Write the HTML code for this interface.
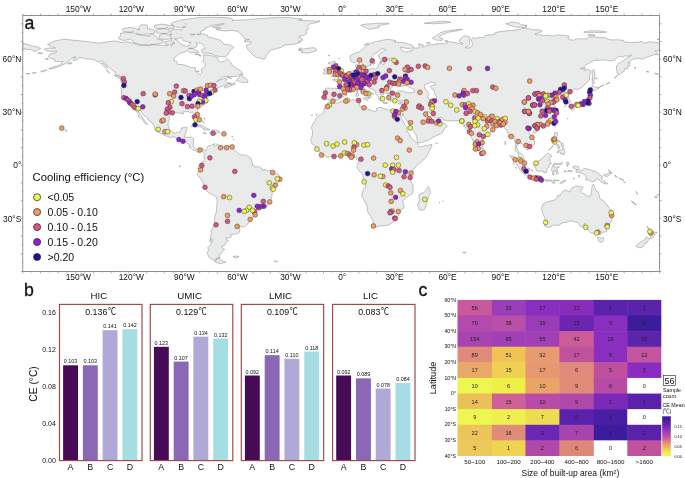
<!DOCTYPE html>
<html><head><meta charset="utf-8"><title>Cooling efficiency</title>
<style>
html,body{margin:0;padding:0;background:#fff;}
svg{display:block;font-family:"Liberation Sans","Noto Sans CJK SC",sans-serif;fill:#101010;}
.tk{font-size:8.4px;}
.d circle{stroke:#3a2a3a;stroke-width:.45;}
</style></head><body>
<svg width="685" height="478" viewBox="0 0 685 478">
<rect width="685" height="478" fill="#fff"/>

<clipPath id="mc"><rect x="22.8" y="15.6" width="636.8" height="255.9"/></clipPath>
<g clip-path="url(#mc)"><path d="M179.3,165.8L180.2,165.8L180.2,167.1L179.3,166.7ZM202.7,132.9L205.0,132.8L206.4,133.5L205.0,133.8ZM65.2,129.6L67.0,130.5L66.1,131.7L65.2,130.6ZM209.9,129.6L207.6,130.1L203.9,130.1L204.6,128.9L202.3,128.2L200.6,126.9L197.0,126.2L195.3,125.3L193.5,126.0L191.0,126.6L192.6,125.1L195.3,124.4L197.9,124.4L200.6,125.1L203.2,126.0L205.9,127.8L207.6,128.7ZM202.7,121.1L203.7,122.0L203.9,123.2L202.9,122.3ZM204.6,119.3L203.6,118.1L205.0,118.4ZM54.8,40.9L59.9,39.9L64.2,39.2L72.3,40.1L79.4,40.8L86.5,41.5L91.8,42.2L98.8,43.2L102.4,42.5L109.5,41.5L114.8,40.9L120.1,42.2L121.8,42.5L127.2,41.8L134.2,43.4L137.8,45.0L141.3,45.4L146.6,45.2L150.1,45.9L151.0,44.7L148.4,44.9L141.1,44.9L133.9,42.7L133.3,41.6L130.0,39.3L130.0,39.1L128.4,39.7L122.9,40.5L118.6,38.7L118.2,37.9L118.7,37.1L120.6,35.8L120.0,33.9L120.9,33.1L127.2,32.5L133.7,32.9L133.3,32.3L133.3,31.4L130.8,32.2L123.4,31.5L122.6,30.5L122.7,29.1L123.3,28.5L130.6,27.4L136.3,28.5L137.0,29.3L136.8,29.5L139.8,29.5L139.4,29.5L138.6,28.8L138.9,27.8L139.6,27.2L139.5,27.2L139.7,26.2L141.1,24.8L146.7,24.9L147.5,25.5L147.6,26.9L147.5,27.0L147.5,27.0L147.6,28.8L147.5,28.9L148.5,28.8L154.0,29.9L154.7,30.8L154.6,32.6L154.2,33.3L148.4,34.1L141.1,34.5L135.5,33.5L137.4,34.5L137.6,34.7L138.6,34.5L143.2,35.7L146.8,35.6L149.2,36.5L149.3,35.4L149.8,34.9L153.9,34.7L157.0,37.3L157.9,39.2L162.9,40.6L163.5,41.4L163.2,42.2L160.9,43.7L151.0,44.7L155.5,44.7L160.8,45.4L167.0,45.4L168.5,44.7L164.6,43.7L164.2,42.8L164.9,41.9L169.7,40.7L171.3,41.3L170.8,39.2L172.2,38.5L172.1,38.5L171.4,37.9L171.3,37.7L170.9,38.3L166.1,39.8L159.6,38.9L158.9,37.9L159.2,35.5L163.4,33.6L169.1,34.4L170.8,36.6L170.4,35.5L170.6,34.7L172.2,34.2L170.3,34.1L169.6,33.5L170.6,31.0L171.2,30.6L172.5,30.6L172.3,29.8L173.0,29.4L178.5,29.4L182.0,30.1L182.0,29.5L183.2,27.4L186.0,26.9L185.1,26.3L180.2,27.8L174.6,26.5L171.7,24.6L171.3,23.8L171.8,22.9L178.5,20.7L179.3,20.9L180.1,20.2L196.0,17.9L208.5,17.3L222.8,17.5L231.7,18.2L232.5,19.0L232.5,20.5L232.3,20.7L235.1,20.2L249.2,19.7L256.3,18.8L266.9,18.1L279.3,17.4L291.7,17.8L302.3,19.2L298.7,20.2L309.4,20.8L320.0,21.1L316.4,22.7L310.2,23.8L307.6,26.4L308.5,29.1L305.8,30.9L306.7,33.5L303.2,35.3L298.7,37.0L302.3,38.8L302.3,40.6L298.7,41.5L300.5,42.4L295.2,43.9L289.9,44.7L284.6,45.0L281.1,47.3L275.7,48.9L270.4,50.1L268.7,53.0L266.0,55.6L265.1,58.8L262.5,59.3L259.8,57.9L256.3,57.4L253.6,55.6L251.0,53.0L249.2,51.2L246.6,47.7L246.6,45.0L251.0,43.2L251.0,41.8L244.8,42.0L244.8,40.1L249.2,39.7L243.9,38.6L243.0,36.2L240.4,33.5L237.7,31.4L231.5,30.5L224.4,30.9L219.1,30.3L215.6,29.1L220.9,28.2L212.1,27.0L219.1,25.5L224.4,23.8L223.3,23.3L217.6,24.7L210.4,25.5L210.3,26.5L209.8,27.0L205.1,27.8L205.1,29.3L204.6,29.9L200.4,31.3L200.6,31.5L200.6,33.4L199.8,34.1L197.0,34.2L198.9,34.8L201.5,33.8L207.0,34.9L207.7,35.8L207.3,36.4L220.4,40.2L224.0,44.1L230.0,44.9L232.9,46.7L233.4,47.3L233.2,48.0L229.7,50.9L228.3,54.4L225.5,56.9L220.0,56.6L215.4,55.7L211.7,53.9L208.4,53.1L203.0,53.2L202.3,52.7L201.4,50.0L202.0,49.4L204.9,48.5L204.9,47.5L203.3,46.0L202.5,44.2L201.1,43.3L199.5,43.0L195.9,42.7L197.0,43.9L197.0,46.4L193.5,48.2L189.1,48.2L188.4,49.0L189.1,48.5L192.6,48.5L196.1,50.3L199.1,52.1L197.9,53.0L194.4,52.4L190.0,53.0L187.5,50.1L185.5,51.7L181.1,52.8L177.6,55.1L174.9,57.4L173.7,60.9L176.7,61.5L177.6,64.5L182.0,64.5L185.5,65.4L190.8,67.5L195.3,67.7L195.8,71.5L197.9,73.7L200.0,74.7L201.8,73.0L201.1,69.2L205.0,66.6L205.5,63.6L202.7,61.3L203.9,58.3L203.2,55.1L209.4,55.1L213.8,56.5L217.7,57.6L218.3,60.9L220.9,62.0L224.4,61.3L227.1,58.6L230.6,62.2L232.4,65.4L235.9,68.0L239.8,70.1L242.5,72.8L240.4,74.4L236.8,76.3L232.4,76.7L228.0,76.3L223.6,76.5L220.0,78.8L216.5,81.8L220.9,79.5L225.3,78.3L227.5,79.1L225.3,80.9L226.6,82.5L228.0,83.9L231.5,84.3L234.5,82.2L235.1,84.3L232.4,85.3L228.9,86.4L225.2,88.3L224.1,87.1L227.1,85.0L224.4,85.3L222.3,86.2L219.1,87.3L217.0,88.2L216.0,89.9L217.4,91.5L214.7,92.1L211.2,92.8L210.3,93.7L209.9,95.2L208.5,96.5L207.5,98.4L206.8,100.0L207.5,102.9L205.5,103.9L203.2,105.3L200.6,106.9L197.9,108.7L197.2,111.3L198.6,115.1L199.7,117.9L199.1,120.7L197.6,120.7L196.5,118.8L194.7,116.1L194.9,113.6L192.6,112.1L190.3,112.8L188.2,111.5L185.5,111.7L182.9,111.9L183.4,113.8L181.1,113.6L178.8,112.9L175.3,112.8L173.1,113.6L170.0,115.4L168.9,117.5L169.3,119.7L168.2,122.8L168.2,125.9L169.3,128.5L171.0,131.2L173.1,132.4L174.4,133.1L177.6,132.4L179.7,132.0L180.9,130.3L181.3,128.2L184.6,127.3L187.3,127.3L186.4,130.3L185.9,132.9L185.0,134.3L184.1,137.2L186.4,137.3L189.1,137.2L191.7,137.3L193.8,138.8L193.5,142.3L193.1,145.8L194.4,147.6L195.8,149.2L197.9,149.7L200.0,148.7L201.8,148.7L204.3,149.9L205.3,151.1L206.8,148.8L207.6,146.7L208.9,145.8L211.2,145.3L213.3,144.2L214.9,143.4L214.2,145.3L214.5,146.5L215.2,145.8L217.0,145.0L217.4,143.7L218.3,145.0L220.4,146.2L222.7,146.5L225.3,147.3L227.5,146.7L230.3,146.4L231.5,147.6L233.3,149.4L234.2,150.4L235.9,151.1L237.7,152.9L239.8,154.7L243.0,154.9L245.7,155.0L247.8,156.1L249.6,157.3L251.0,158.2L251.9,161.8L252.8,163.5L251.9,165.3L254.5,165.7L255.8,167.6L257.2,166.4L259.8,167.2L262.1,168.8L262.8,170.1L265.1,169.5L267.8,170.4L270.4,170.4L273.1,171.8L275.4,173.8L278.8,174.5L279.5,176.8L279.6,178.9L278.8,181.8L276.6,184.1L275.2,185.8L273.1,188.3L272.2,191.0L272.2,193.6L271.7,196.8L270.8,199.8L269.0,202.4L268.7,204.6L266.9,206.0L264.2,206.0L262.1,206.5L259.3,207.8L256.6,209.5L255.2,211.3L255.0,214.8L253.3,217.1L251.5,219.8L249.0,222.3L246.6,225.3L244.1,227.0L241.3,226.9L238.6,225.4L237.7,226.3L239.8,227.7L240.0,229.5L239.1,232.5L236.8,233.8L233.3,234.3L231.2,234.3L231.0,237.3L228.9,238.0L226.2,237.7L226.2,239.6L228.5,240.5L227.1,241.4L225.7,243.1L225.2,244.9L222.1,246.1L221.8,247.6L224.6,249.3L222.7,251.6L220.9,253.8L219.1,255.2L220.0,257.8L218.3,257.8L215.6,259.1L215.6,260.5L212.9,259.9L211.2,258.7L208.9,257.3L207.8,254.6L207.5,251.5L208.9,249.9L207.5,247.9L209.4,245.8L211.2,244.0L212.4,241.4L212.4,239.2L210.6,238.7L210.6,236.1L211.5,233.4L211.0,231.1L212.4,229.0L213.5,226.3L214.7,222.8L214.5,219.3L215.1,215.7L216.3,212.2L216.5,208.6L217.0,204.2L217.0,200.7L216.8,197.8L214.7,195.9L211.2,194.1L208.2,192.4L206.2,190.1L205.9,188.3L204.6,186.5L203.2,183.3L201.8,180.3L200.0,177.7L197.9,175.9L197.4,173.3L199.0,171.3L199.9,169.7L198.1,169.2L198.3,167.1L199.5,165.3L199.7,163.7L201.4,163.0L202.2,161.8L203.6,160.7L204.5,158.6L204.1,155.6L204.3,153.4L203.4,152.6L202.3,150.6L200.6,149.6L199.1,150.8L199.3,152.2L197.9,152.6L196.1,150.8L194.4,150.6L193.1,150.1L191.2,148.1L189.4,147.4L189.4,145.5L187.3,143.0L185.9,141.8L182.9,141.4L179.3,140.5L176.7,138.4L174.6,136.6L171.4,137.5L167.8,136.6L164.3,135.2L160.8,133.6L157.2,131.7L154.7,129.9L154.7,127.3L153.7,125.0L151.0,122.0L148.4,120.0L147.5,118.1L145.7,116.7L143.1,114.4L141.3,111.3L138.3,109.2L138.1,110.8L139.5,113.1L141.3,115.4L142.5,117.5L144.3,120.2L145.7,122.3L147.5,124.4L146.3,124.3L144.0,122.3L142.7,120.2L140.4,117.9L138.1,116.1L139.0,114.4L136.5,112.2L135.1,109.6L134.1,107.8L131.8,105.5L129.8,104.6L127.9,104.3L126.8,102.3L125.4,100.2L124.5,98.4L122.4,96.3L121.3,93.8L121.7,91.0L121.1,89.2L121.8,86.6L122.0,83.6L120.8,80.7L120.6,79.7L123.6,80.0L124.3,81.6L124.9,79.5L123.6,78.3L121.0,76.9L120.1,76.5L122.7,78.6L122.7,79.9L118.3,78.1L114.2,75.4L116.5,75.3L120.1,76.5L117.4,75.4L115.3,74.2L114.8,71.9L112.1,70.1L110.7,68.5L108.6,66.8L105.9,64.5L104.2,62.3L101.5,60.6L99.7,62.2L97.1,61.3L93.9,59.7L90.0,59.2L85.6,59.0L82.0,57.7L78.9,57.7L77.6,59.5L73.2,60.6L73.2,58.3L76.2,57.0L72.7,57.4L70.5,59.2L69.1,60.6L68.4,62.3L65.2,63.6L62.1,65.2L58.2,66.8L53.7,68.2L52.4,68.4L52.5,68.5L50.7,68.7L49.8,68.9L50.0,68.8L49.3,68.9L49.3,68.2L51.4,68.0L53.7,66.8L57.3,65.9L60.8,63.9L62.9,61.5L59.9,61.6L55.0,61.5L54.3,59.2L50.2,58.3L48.3,56.5L49.3,54.6L52.0,53.7L55.5,53.0L56.7,51.0L53.7,51.4L50.2,51.4L46.7,50.8L44.0,49.3L50.2,47.7L51.6,48.4L55.5,48.0L52.0,46.6L47.5,44.5L49.3,43.4L52.9,41.8ZM195.3,34.2L189.9,34.4L191.1,35.4ZM181.5,34.1L181.1,34.1L181.3,34.3ZM177.0,40.1L179.3,42.2L181.1,44.1L184.6,45.4L186.4,46.2L189.1,45.4L190.0,42.5L190.8,42.4L190.7,42.4L183.4,40.8L182.0,38.3L181.7,37.3L177.8,38.9L174.3,38.7ZM172.9,42.1L173.2,42.8L172.8,43.5L170.1,44.7L171.4,46.2L172.3,44.1L174.9,42.9ZM176.7,33.2L176.7,33.3L177.0,33.3ZM186.4,24.0L185.2,23.6L185.8,24.3ZM26.3,73.5L29.5,73.3L29.9,73.7L26.3,74.0ZM32.5,73.3L32.5,72.8L35.7,72.4L36.0,72.8ZM198.8,71.9L196.1,71.5L198.8,71.2ZM105.9,69.6L108.0,71.2L109.5,73.3L107.7,71.9ZM40.8,71.5L43.5,70.7L44.0,71.2L41.4,72.1ZM44.0,70.5L46.7,69.8L47.0,70.3L44.9,71.0ZM105.6,65.4L107.7,67.5L105.9,68.0L103.3,65.9L100.6,63.1L103.3,63.1ZM67.9,63.9L69.7,62.7L71.8,62.7L71.4,63.9ZM45.8,58.5L48.3,58.6L48.1,59.5L45.2,59.2ZM198.8,55.6L200.6,54.9L200.6,56.3ZM194.4,54.2L197.9,53.9L199.7,54.7L197.0,54.7ZM37.5,53.1L39.9,52.6L42.6,53.3L41.4,53.9ZM29.0,49.4L25.4,49.4L24.5,48.2L22.8,50.1L22.8,43.2L26.3,44.1L31.6,45.9L36.9,46.8L40.8,48.4L38.7,49.4L36.0,51.2L34.3,51.4L31.6,49.8ZM156.3,32.3L156.3,30.0L157.1,29.4L164.4,28.6L169.1,29.9L169.7,30.8L169.3,31.6L166.1,33.6L157.1,33.2ZM168.1,25.1L168.3,25.4L172.2,25.1L173.1,25.5L174.1,27.7L173.8,28.4L173.1,28.6L168.5,28.6L167.7,27.7L167.8,27.2L164.4,28.6L155.3,28.3L154.5,27.3L154.5,25.6L155.1,25.0L162.4,24.1ZM276.6,262.1L274.0,260.8L277.5,261.4ZM216.5,260.8L216.5,259.1L218.3,258.3L219.8,258.3L220.9,259.9L223.6,261.5L225.9,262.1L223.6,262.8L220.0,263.5L217.4,262.9L214.7,261.7ZM234.2,257.6L232.8,256.4L236.8,256.0L239.0,256.6L237.2,257.8ZM211.2,239.6L211.0,242.1L209.6,241.7L209.9,239.4ZM346.5,100.2L350.0,100.2L352.7,99.8L355.4,100.0L358.5,99.3L360.7,99.8L360.0,101.1L360.3,102.5L359.2,104.4L359.1,105.3L360.7,106.4L363.3,107.3L364.7,107.1L367.7,108.0L368.6,109.6L372.2,110.6L374.8,111.7L376.6,110.5L376.6,108.7L379.2,107.1L381.9,107.6L385.4,109.2L389.0,109.9L392.5,110.6L394.8,109.8L396.0,109.4L397.8,110.1L398.9,110.3L400.5,110.3L401.9,109.9L402.8,108.2L403.3,106.6L404.5,104.3L404.7,102.0L405.1,100.4L403.1,100.4L401.3,101.1L399.2,101.4L396.9,100.6L395.3,100.2L393.4,101.3L391.3,100.4L389.7,99.8L389.3,98.1L387.9,97.2L388.6,95.8L387.5,95.2L387.7,94.4L389.8,93.8L392.5,93.8L392.5,92.8L394.3,92.4L396.9,92.2L399.6,91.0L403.1,91.0L405.8,92.2L408.4,92.8L411.1,92.6L414.6,91.9L414.6,89.8L412.5,88.9L410.2,87.5L407.5,86.2L406.3,85.2L407.5,84.3L408.8,83.2L408.8,82.2L410.5,81.8L408.1,82.2L405.8,82.7L403.5,83.2L403.1,84.5L405.6,85.2L404.0,85.7L402.2,86.4L400.6,86.8L400.5,85.5L398.9,85.0L400.5,83.9L397.8,83.4L396.9,82.7L395.5,83.2L393.9,84.6L393.6,85.7L392.0,86.6L391.8,88.3L390.4,89.8L390.7,91.0L391.1,91.9L392.5,92.3L390.7,92.8L389.0,92.9L387.7,94.0L387.2,93.1L385.4,92.9L383.7,93.1L384.0,94.2L382.8,94.7L381.7,93.7L381.2,94.5L381.9,95.8L382.3,96.5L384.0,97.2L384.5,97.9L383.1,97.2L382.4,96.6L382.4,96.7L383.7,98.1L383.7,98.6L382.1,98.1L382.2,99.3L381.5,100.2L381.9,100.7L380.8,100.7L380.1,99.8L379.6,100.2L378.7,98.4L379.2,97.5L378.0,96.7L376.9,95.2L375.5,93.7L375.7,91.7L374.8,90.6L373.0,89.8L371.3,88.9L369.5,88.2L368.1,86.9L367.0,85.3L365.4,85.9L365.3,84.6L363.3,85.0L363.0,86.0L363.1,87.1L365.1,88.2L366.0,89.9L367.7,91.0L369.7,91.2L369.5,92.1L372.2,93.1L373.9,94.2L373.0,94.7L371.3,93.7L370.6,94.9L371.4,96.3L370.4,97.2L369.7,98.1L369.0,98.1L369.3,96.8L369.7,95.8L368.8,94.4L367.4,93.5L366.3,93.1L364.2,92.2L362.8,91.4L360.7,90.1L359.8,89.2L359.2,87.6L356.9,86.8L355.7,87.5L354.5,87.8L352.9,88.9L350.9,88.9L349.3,88.5L347.9,88.3L346.5,89.4L346.9,90.5L346.7,91.4L345.1,92.1L343.0,92.6L342.3,93.5L341.2,94.7L340.7,95.6L341.6,96.7L340.3,97.5L339.8,98.8L337.8,99.8L337.3,100.2L335.0,100.4L333.4,100.4L331.6,101.4L330.4,101.1L329.9,100.2L328.1,99.5L325.5,99.8L325.6,98.1L324.4,96.8L325.3,94.9L325.8,92.8L325.6,90.6L324.7,89.2L327.0,88.0L330.6,88.2L334.5,88.3L338.0,88.5L338.9,86.4L339.3,84.5L338.9,83.6L337.3,82.0L335.9,81.1L333.4,80.7L332.9,79.7L335.0,79.0L338.4,79.3L338.0,77.4L339.3,77.9L341.6,77.7L343.9,76.7L344.0,75.3L345.6,74.9L347.4,74.4L348.6,73.0L349.7,71.5L350.9,71.0L353.6,70.7L355.4,70.5L356.4,69.8L356.6,68.2L355.7,67.1L355.7,64.8L358.0,64.1L359.8,63.2L359.6,65.2L360.3,65.9L359.2,67.1L360.1,67.1L360.1,67.8L358.9,67.8L358.8,67.6L358.2,68.4L360.3,69.8L362.4,69.4L364.2,69.1L366.3,70.0L369.5,69.2L373.6,68.4L375.7,69.1L376.6,68.4L378.3,67.3L378.3,64.8L379.2,63.6L381.2,63.2L382.4,64.5L384.2,64.1L384.2,62.3L382.8,61.5L382.6,60.6L385.4,60.0L388.1,59.9L390.7,59.9L392.9,59.2L394.6,59.3L392.5,58.5L390.4,58.3L387.2,58.5L384.5,59.0L381.7,59.3L379.2,58.1L378.9,56.5L378.7,54.6L381.0,53.0L383.7,51.2L386.0,50.1L385.4,49.1L382.8,48.9L380.1,49.3L378.9,51.0L377.5,52.4L373.9,54.2L372.0,56.0L371.6,57.9L374.3,59.0L373.4,60.4L371.3,61.5L370.6,63.6L369.5,65.7L367.4,66.1L366.5,67.1L364.2,67.3L363.7,65.9L362.4,63.9L361.2,61.8L360.3,60.4L359.6,60.0L358.0,60.9L355.7,62.3L353.6,62.7L351.3,61.5L350.4,59.5L350.0,57.4L350.4,55.6L352.7,54.2L356.2,52.8L358.9,52.1L361.0,50.5L363.3,48.5L365.1,46.8L367.4,45.0L370.4,43.6L373.0,42.4L376.2,41.5L379.2,41.1L382.8,40.1L386.7,39.5L390.7,39.7L394.3,40.2L396.0,40.9L393.9,41.8L396.9,42.2L400.5,42.5L404.9,42.9L409.3,44.3L412.8,45.5L414.1,47.1L412.0,48.2L408.4,48.5L404.9,48.0L400.5,47.1L401.3,48.9L402.8,51.2L405.8,52.1L408.1,51.6L408.8,50.7L412.0,51.0L412.5,49.4L414.6,48.0L419.0,48.0L419.0,46.2L419.4,44.5L418.2,43.9L421.7,44.3L423.5,45.4L421.7,46.8L424.3,47.0L426.1,45.5L430.5,44.8L435.0,44.5L436.7,44.7L436.7,43.4L441.1,43.9L445.6,43.6L448.2,41.8L451.8,42.0L455.3,42.7L458.0,43.2L461.5,44.3L463.3,43.6L459.7,42.2L459.4,40.4L460.3,38.8L462.4,36.9L464.1,35.8L467.7,36.0L470.0,37.2L469.8,39.7L469.5,42.4L469.8,44.1L467.7,46.4L465.0,47.8L468.6,48.0L471.2,46.8L473.0,44.5L472.1,42.4L471.2,39.7L473.0,37.4L475.6,38.3L479.2,37.4L483.6,37.8L485.4,35.3L489.8,34.9L494.2,34.6L495.1,32.6L500.4,31.6L507.5,30.7L514.6,30.3L519.9,29.1L525.2,27.8L528.7,28.6L531.4,29.8L537.6,29.6L542.0,30.9L539.3,32.6L534.9,34.0L536.7,34.7L541.1,34.9L542.9,35.6L549.9,35.3L551.7,36.2L558.8,34.9L564.1,35.3L569.4,36.2L567.6,37.9L570.3,39.7L573.8,40.1L576.5,38.8L581.8,38.8L587.1,38.8L588.9,37.0L594.2,36.9L599.5,37.4L604.8,37.6L607.4,38.8L611.0,39.9L617.2,39.7L623.4,40.4L624.2,42.0L627.8,42.2L633.1,42.4L638.4,42.2L641.9,41.3L643.7,43.2L649.0,41.8L654.3,42.2L659.6,43.2L659.6,50.1L657.0,51.2L654.8,50.8L657.0,53.0L658.7,54.7L654.3,54.7L650.8,55.8L646.4,57.4L642.8,59.2L638.4,58.3L634.9,58.8L632.2,59.5L630.1,61.3L627.8,62.7L629.9,63.1L629.5,66.2L627.8,65.7L627.8,68.4L624.6,68.9L624.2,71.2L621.6,73.0L618.4,75.1L617.2,72.4L616.6,69.8L616.6,66.2L618.4,63.6L620.7,62.3L624.2,60.0L626.9,58.3L630.4,56.5L631.3,54.7L628.7,56.2L624.2,56.0L622.5,57.0L618.9,56.2L615.4,59.2L614.2,60.0L611.0,60.9L608.3,60.6L604.8,60.0L599.5,60.2L594.2,60.4L589.7,62.7L585.3,65.4L582.7,68.0L580.5,68.5L584.4,69.4L584.4,70.5L588.0,69.4L591.2,71.2L590.3,73.3L589.7,76.0L589.6,79.5L587.1,82.2L585.3,84.3L582.7,86.6L580.5,88.3L577.4,89.6L574.7,88.9L572.6,90.3L570.8,91.9L570.6,93.1L567.6,94.5L566.6,95.8L568.2,97.2L569.9,99.5L570.3,101.6L569.8,103.0L567.6,103.6L565.0,104.4L564.6,102.5L565.3,100.7L564.4,99.8L565.3,98.6L562.9,98.4L562.3,97.0L563.0,95.4L561.1,94.5L558.8,95.2L555.8,96.7L556.7,94.9L557.4,93.5L555.2,92.9L552.6,94.9L549.9,96.0L549.4,97.0L551.4,98.1L551.7,99.3L554.7,98.4L557.9,99.1L557.7,100.0L554.9,100.7L553.8,101.6L552.2,103.2L553.8,104.6L554.9,106.9L556.7,108.9L556.8,110.6L554.9,111.5L556.8,112.4L556.5,114.9L554.7,116.3L553.5,118.2L552.6,120.2L551.0,121.8L549.6,122.8L547.6,124.1L545.5,125.1L543.2,125.9L542.0,126.0L540.2,126.7L537.6,127.3L536.5,127.8L536.3,129.4L535.4,129.0L535.3,127.3L533.1,126.9L531.4,127.6L530.0,128.7L528.7,130.3L528.4,131.7L529.6,133.6L531.4,135.8L532.8,137.0L534.0,139.1L534.6,142.3L534.4,144.4L532.8,145.8L530.5,146.9L530.0,148.3L527.8,149.4L526.9,150.1L526.6,148.0L526.1,146.9L524.3,146.5L523.1,144.6L522.0,143.5L519.9,142.8L519.7,141.6L518.3,141.6L517.9,143.5L516.7,146.2L516.9,148.8L518.1,150.4L519.0,152.6L520.8,153.3L522.2,154.3L523.8,156.5L524.1,158.2L524.3,160.5L525.5,162.8L524.3,163.0L522.5,161.8L520.4,160.3L519.3,158.4L518.6,155.7L518.5,154.0L517.2,152.6L515.4,150.8L515.1,148.8L515.8,146.7L515.6,144.1L514.9,141.4L514.2,138.8L513.9,136.1L512.6,134.9L511.0,136.3L509.8,137.3L508.0,137.0L508.4,134.3L507.8,132.0L506.6,130.3L505.4,129.0L503.9,127.3L503.6,125.7L501.8,125.9L500.8,126.6L498.6,126.7L496.9,126.9L495.1,127.4L494.7,129.0L493.3,130.1L491.6,131.0L489.8,132.8L487.1,135.2L485.4,136.5L484.1,137.3L482.9,138.8L483.1,141.4L482.7,144.1L482.4,147.1L481.3,147.1L481.0,149.0L479.5,149.6L478.3,151.0L477.1,150.1L476.2,148.0L474.9,145.0L473.9,143.2L473.2,140.5L472.1,138.8L471.0,136.1L470.3,133.5L470.0,131.5L469.8,129.0L470.0,127.3L469.1,127.8L466.8,128.5L465.0,127.8L463.4,126.0L465.0,125.1L463.1,124.8L461.8,123.4L460.4,122.5L459.7,121.3L458.8,120.4L455.3,120.7L450.9,120.9L447.3,120.5L443.8,120.0L442.0,117.7L440.8,117.4L438.5,118.2L436.7,118.1L434.1,116.8L432.3,115.9L431.1,114.2L430.2,112.4L427.9,111.5L426.1,112.2L426.5,114.0L427.4,115.8L429.6,117.9L430.0,120.0L431.1,121.4L431.8,119.1L432.5,121.1L432.8,122.8L435.0,122.7L437.1,122.5L439.4,120.4L440.6,119.0L441.1,121.8L442.6,123.0L444.9,123.6L447.0,125.5L445.6,127.8L443.8,129.2L443.3,131.7L441.1,133.5L438.8,134.7L436.7,135.4L433.7,137.0L430.5,138.8L427.4,140.5L424.3,141.4L420.8,142.7L418.2,142.8L417.3,140.9L416.9,138.4L416.7,136.1L415.1,133.5L413.2,130.5L411.1,128.5L410.2,126.4L409.1,123.7L407.2,121.4L405.9,119.3L404.0,116.7L402.8,114.9L402.9,113.1L402.2,115.4L401.7,116.2L400.6,115.2L399.8,114.0L398.9,112.4L398.5,112.9L399.2,114.4L400.5,116.1L401.2,117.5L402.1,119.3L403.1,121.4L404.2,123.0L404.2,124.6L406.3,126.4L407.0,128.2L407.0,130.6L407.5,132.2L409.3,133.5L410.5,137.0L411.4,138.4L413.7,140.2L416.0,142.3L417.6,143.2L417.8,144.8L419.0,146.7L420.8,146.7L423.5,146.2L426.1,145.5L428.8,145.1L431.8,144.2L431.6,146.7L430.4,148.8L429.3,151.1L427.9,153.8L426.1,157.2L423.5,160.0L421.3,161.8L419.0,163.5L416.4,166.2L414.6,168.3L412.5,169.9L411.3,172.6L410.0,175.6L409.8,176.8L410.9,178.2L410.7,180.5L411.6,183.0L412.7,183.9L413.0,187.4L413.2,191.0L412.3,193.6L410.2,195.0L407.5,196.4L405.8,198.2L403.1,200.3L402.6,201.9L403.8,204.2L404.0,207.4L402.8,209.0L399.6,210.1L399.0,211.3L399.4,213.1L398.7,215.5L396.9,217.1L395.5,219.3L393.4,221.6L391.3,223.3L389.0,224.7L386.7,225.4L383.7,225.6L381.0,225.6L378.3,226.2L376.6,226.9L374.5,226.2L373.7,225.6L373.6,223.7L373.0,222.8L373.4,221.4L371.8,218.9L370.9,216.6L369.0,213.9L367.7,211.6L367.2,207.8L366.7,205.1L365.1,202.4L363.3,198.9L362.1,197.1L361.9,194.5L362.6,191.8L363.8,189.2L365.4,187.1L365.6,184.8L364.4,181.2L363.8,178.6L363.0,176.1L362.6,174.1L361.0,172.4L358.9,170.6L357.7,168.8L356.8,166.7L357.8,164.9L358.2,163.2L358.5,160.9L358.4,158.9L356.9,157.3L355.4,157.3L353.6,157.5L351.8,157.7L350.4,155.9L349.2,154.2L347.4,154.0L345.6,154.2L343.3,154.7L341.6,155.2L339.4,156.1L337.7,156.8L335.9,156.3L334.1,156.1L331.5,156.3L329.7,156.8L327.9,157.5L326.2,156.5L324.4,155.2L322.1,153.4L320.9,152.9L319.1,152.0L317.8,150.3L317.7,148.7L315.5,146.7L314.7,145.8L312.9,144.4L311.7,143.4L311.5,141.4L310.4,139.3L311.5,137.5L312.2,135.6L312.5,133.5L312.5,131.3L312.0,129.0L311.1,128.2L312.0,125.9L312.9,123.4L314.7,121.8L315.5,119.0L317.3,117.2L318.6,115.8L321.4,114.4L323.5,112.9L324.0,111.3L323.9,109.6L324.9,107.8L326.5,106.2L329.2,105.0L330.2,103.4L330.8,102.0L331.8,101.8L334.1,103.0L336.1,102.9L337.7,103.2L339.4,102.1L341.6,101.6L343.9,100.7ZM425.2,89.2L427.0,91.2L428.8,93.5L428.4,95.4L427.7,97.2L428.8,99.0L431.4,100.2L435.0,100.0L436.7,99.3L436.4,96.3L435.0,94.5L434.6,92.4L434.1,91.0L434.1,89.6L431.9,88.9L430.2,86.6L432.3,85.2L435.0,85.2L435.3,82.7L431.8,82.2L428.8,83.0L427.0,83.9L425.2,84.6L424.3,86.0ZM356.4,159.6L356.2,158.8L356.9,158.9ZM233.5,146.2L233.3,147.4L231.9,147.4L231.9,146.4ZM232.9,139.1L233.6,139.3L233.5,139.8ZM232.4,137.2L231.9,136.5L232.9,136.5ZM222.3,132.8L225.0,132.8L224.8,133.5L222.3,133.5ZM212.1,133.1L209.6,132.8L212.2,133.0ZM212.2,133.0L212.9,132.4L211.5,130.3L213.8,130.1L217.4,130.3L219.1,131.3L220.2,132.4L217.7,132.8L215.6,133.8L214.4,133.6L212.9,133.1ZM311.5,115.1L312.7,114.9L311.8,115.8ZM316.8,115.2L315.9,114.7L317.3,113.6ZM365.1,97.7L368.8,97.5L368.1,99.3L367.9,100.4L366.5,100.0L364.2,99.1L363.1,98.1ZM343.9,96.7L343.3,96.5L344.0,96.1ZM346.7,94.7L347.2,95.2L346.5,95.8L345.4,95.2ZM358.5,93.8L358.2,96.0L356.8,96.5L356.1,95.8L356.1,94.0L355.7,92.9L357.7,92.4ZM357.5,92.1L356.6,91.4L356.4,90.1L357.8,89.2L358.0,91.0ZM230.1,83.9L227.5,82.7L231.5,83.2ZM246.6,79.0L248.0,80.9L247.4,82.7L245.7,82.3L242.5,82.5L239.5,81.3L236.3,80.9L237.2,79.3L239.0,77.4L240.4,75.1L243.0,74.0L242.1,75.4L242.5,77.0L244.8,77.7ZM227.1,77.0L231.5,78.4L228.9,77.9ZM326.2,68.9L326.5,67.7L328.3,67.5L330.6,67.7L331.5,68.9L330.6,69.8L330.2,70.8L330.6,71.5L330.1,73.0L327.9,73.3L326.2,74.0L323.9,74.2L323.0,73.1L324.4,72.3L325.3,71.2L323.9,70.8L323.5,69.4ZM333.2,71.0L335.7,71.0L336.1,70.0L335.0,69.1L335.0,68.2L332.7,68.5L332.5,68.0L331.3,67.1L331.1,65.2L330.9,63.4L332.4,61.6L335.5,61.6L333.8,63.4L335.0,63.2L337.7,63.6L336.6,65.4L335.4,66.1L336.8,66.2L338.4,67.1L339.1,68.7L340.8,69.8L341.6,70.7L342.1,71.5L344.2,72.3L343.3,73.7L342.3,74.2L343.7,74.7L341.7,75.4L339.4,75.6L336.8,75.8L335.0,76.3L333.2,76.3L331.1,76.7L333.6,74.7L335.5,74.7L335.9,74.4L333.8,74.0L332.0,73.5L333.9,72.8L333.8,71.9ZM362.8,67.8L361.0,67.7L360.7,66.8L362.4,66.1L363.5,66.8ZM370.2,65.9L371.4,63.9L370.9,65.2ZM373.4,64.5L374.8,62.9L374.5,63.8ZM328.6,62.7L330.2,61.8L329.9,62.9L328.3,64.1ZM379.8,62.2L381.9,61.6L381.9,62.3L380.1,62.7ZM338.9,59.3L338.5,58.8L339.4,57.9ZM328.3,55.4L329.7,55.1L329.3,56.0ZM313.2,51.7L308.5,53.1L304.9,52.8L301.0,52.4L302.3,51.6L301.4,50.7L298.7,50.5L301.8,49.8L298.2,49.3L301.4,47.8L303.5,49.3L305.8,48.5L309.4,48.2L312.4,47.7L315.2,48.0L317.1,49.8L315.9,51.2ZM364.2,45.0L366.5,43.9L368.6,43.4L366.9,44.3ZM373.0,28.6L370.4,29.6L367.7,28.7L365.1,27.3L360.7,25.2L366.0,24.0L371.3,23.8L378.3,23.2L385.4,23.2L389.0,23.8L381.9,25.0L378.3,26.1L379.2,27.7ZM462.9,252.0L465.9,252.2L465.0,253.2L463.3,252.9ZM439.4,203.2L439.0,202.3L439.9,202.6ZM442.7,200.7L443.4,201.0L442.9,201.6ZM420.8,210.4L419.0,209.5L418.2,206.9L417.8,204.2L419.0,201.6L419.7,199.8L419.0,197.1L419.0,195.0L420.8,193.6L423.1,193.1L425.2,191.3L426.1,189.4L427.5,187.9L428.4,186.5L429.6,189.2L430.5,192.7L429.1,194.5L428.6,197.1L427.5,200.7L426.1,205.1L424.7,209.3L422.6,210.1ZM551.7,182.1L553.8,181.9L554.9,183.0L553.5,183.5ZM558.8,180.0L558.8,180.7L555.2,181.0L553.1,180.9L553.1,180.2L555.2,180.2ZM547.3,180.0L549.1,180.0L551.7,180.2L551.7,180.9L548.2,181.2L545.5,180.9L544.6,179.6ZM541.1,178.7L543.8,179.1L543.6,180.7L541.1,180.0L538.4,180.0L535.8,179.5L533.1,179.1L531.4,178.9L529.4,178.4L527.3,177.3L528.9,175.7L530.5,175.8L532.3,176.4L533.5,177.3L535.8,177.5L537.0,176.6L538.4,177.2L540.4,177.5ZM410.5,175.6L411.1,176.3L410.7,176.6ZM531.5,169.9L532.8,170.1L532.4,171.0L531.5,170.6ZM527.5,168.5L529.1,168.1L530.0,169.9L528.7,170.6ZM557.0,163.5L559.1,163.7L561.4,163.0L562.7,162.5L561.3,164.6L558.8,164.6L556.1,164.4L554.2,164.6L553.5,166.0L554.2,167.1L556.1,166.9L557.9,166.7L559.5,166.9L558.4,168.0L556.5,168.7L557.7,171.0L557.5,171.8L558.4,172.7L558.1,174.0L556.3,173.8L556.1,172.4L555.2,170.1L554.2,170.4L554.0,172.4L554.2,175.0L552.6,175.0L552.8,172.4L552.4,171.3L551.4,170.3L552.2,167.4L553.1,165.3L553.5,164.1L554.9,163.0ZM516.9,168.3L516.3,168.5L515.6,167.6L515.8,167.1ZM524.3,167.1L526.1,168.5L528.4,170.4L528.7,171.5L528.4,175.6L527.3,175.6L526.1,175.4L524.3,174.0L522.2,172.4L520.8,170.6L519.7,169.2L518.6,166.9L517.2,165.3L516.3,163.5L515.6,161.9L514.2,160.9L512.8,159.3L511.0,157.7L509.8,155.4L511.9,156.1L513.7,156.1L515.1,157.9L517.2,159.6L519.0,161.2L520.8,161.9L523.4,164.2L524.8,165.8ZM513.1,162.8L514.4,163.9L514.0,164.2L513.0,163.4ZM546.4,154.3L547.8,152.9L549.2,154.0L550.3,155.0L552.1,156.1L550.3,157.5L549.2,157.9L549.6,159.1L549.9,161.4L551.7,163.5L549.9,163.9L549.1,165.3L549.1,167.1L547.3,168.1L546.9,170.6L546.4,172.4L543.9,172.6L543.8,171.3L541.1,171.0L539.0,171.5L536.1,170.4L535.8,168.0L534.2,166.2L534.0,164.4L534.0,162.6L535.1,161.8L536.3,162.3L537.9,162.6L538.3,160.9L541.1,159.6L542.9,157.2L545.3,155.7ZM563.2,155.0L562.7,153.3L560.9,154.2L560.6,152.6L559.3,151.9L557.0,152.9L557.5,151.1L559.7,150.1L561.4,150.3L563.2,148.1L564.6,150.3L565.0,152.6L564.3,154.0ZM484.1,149.4L485.0,150.4L486.1,152.4L485.6,154.0L483.6,154.9L482.5,153.6L482.4,151.1L482.7,148.0ZM552.6,145.3L552.6,146.7L550.5,148.8L548.5,150.4L549.9,149.0L551.7,146.9ZM559.0,145.0L559.0,146.2L559.7,146.7L559.1,149.0L557.9,148.3L558.1,147.7L558.1,147.8L557.0,146.7L557.0,144.4ZM436.7,143.5L435.7,143.0L437.6,143.0ZM505.7,143.2L505.2,144.8L504.8,143.2L505.2,141.4ZM555.6,141.6L556.1,143.2L555.4,143.7L554.2,141.6ZM559.8,142.5L558.4,141.4L556.7,140.9L554.7,140.9L554.5,139.6L553.5,138.8L553.3,137.0L554.2,136.1L554.2,134.3L554.5,132.6L557.4,132.6L557.5,135.2L556.3,137.3L556.5,139.6L557.9,140.2L559.7,140.9L560.7,142.5ZM537.6,130.6L536.7,132.0L534.9,133.1L533.5,132.4L533.5,131.2L534.9,130.1L537.0,129.7ZM556.1,120.5L557.0,121.1L556.3,122.8L555.8,125.0L554.9,126.6L553.8,125.0L553.8,123.2L554.9,121.6ZM399.6,104.1L398.3,103.4L399.6,102.7L402.4,102.1L401.3,103.4ZM387.5,103.4L384.9,103.6L382.8,103.0L382.8,102.5L384.5,102.3L387.7,102.9ZM390.7,101.8L390.2,101.4L391.1,100.9ZM387.9,96.3L387.0,96.0L388.3,95.8ZM380.3,61.1L381.7,60.9L381.5,61.5ZM426.6,43.2L427.9,42.4L430.0,42.7L429.3,43.6ZM444.7,41.1L446.5,40.6L448.2,41.1L447.3,42.0ZM456.2,30.9L449.1,32.1L443.8,34.0L440.3,35.6L439.4,37.6L442.9,38.8L442.0,40.4L435.8,40.1L432.3,38.3L435.0,36.5L437.6,34.7L440.3,32.6L445.6,31.2L454.4,30.0L461.5,29.1L462.4,29.6ZM521.6,24.7L526.9,25.2L525.1,26.0L526.9,26.6L523.4,27.7L520.5,27.0L516.3,27.3L509.3,25.2L505.7,23.8L512.8,22.0L518.1,22.9ZM443.8,21.1L450.9,22.4L443.8,23.2L433.2,23.8L424.3,23.2L433.2,22.0ZM644.1,244.9L643.2,246.5L641.6,247.6L639.3,247.7L637.5,247.0L635.7,246.3L637.5,244.6L639.3,243.1L641.9,241.5L644.1,240.0L645.1,238.7L645.6,237.7L646.7,236.9L647.6,238.2L649.4,238.2L649.5,239.2L648.1,240.8L646.9,242.1L647.2,243.0L644.6,243.5ZM597.2,237.3L600.4,238.0L603.5,237.7L603.5,240.0L602.7,241.7L600.0,242.4L598.6,241.0L598.1,239.2ZM654.3,235.5L652.9,237.8L651.1,238.9L650.2,238.4L651.0,236.6L650.4,235.7L648.7,235.0L650.1,233.6L650.2,231.3L649.4,229.7L647.2,227.6L646.7,226.2L648.1,227.2L649.9,229.3L651.3,230.0L652.4,231.8L654.3,232.3L657.0,232.0L656.1,233.8L654.3,234.8ZM560.6,194.1L562.0,192.2L563.7,190.8L565.5,189.9L567.3,191.0L568.2,191.7L570.3,191.7L570.8,189.2L572.6,187.2L574.4,186.9L575.8,185.5L577.4,186.2L580.0,186.9L583.2,186.9L581.8,188.8L580.9,191.5L582.7,193.3L585.0,194.1L587.4,196.1L590.3,196.3L591.3,193.6L591.7,191.0L591.7,187.9L592.6,184.8L593.5,184.2L594.7,187.1L595.6,190.8L598.2,191.8L599.1,195.2L600.0,198.7L602.7,200.3L604.4,201.6L605.7,204.2L608.0,205.6L608.3,207.4L611.7,210.1L612.2,213.9L612.9,216.1L611.9,219.3L611.0,221.9L609.7,223.7L608.7,225.3L607.4,227.7L606.5,230.8L606.4,231.6L603.0,232.3L601.2,233.4L600.0,234.5L598.6,233.1L597.5,232.3L596.8,233.1L595.1,233.9L592.4,233.1L590.3,232.5L588.3,230.4L587.6,228.5L586.2,228.3L586.2,226.9L585.3,225.8L585.0,227.6L583.4,227.7L584.6,225.4L585.1,223.1L583.6,224.9L581.8,226.9L580.4,226.3L578.6,223.7L577.4,222.3L574.7,221.9L572.9,221.0L569.4,221.2L566.7,222.3L564.1,222.4L560.9,223.7L559.7,225.3L556.8,225.3L553.5,225.3L551.7,226.2L549.9,227.2L547.3,227.2L544.6,226.0L544.8,224.7L545.9,224.2L545.9,221.9L545.0,219.8L544.5,217.5L543.2,214.8L542.5,212.7L542.0,210.9L541.8,208.5L542.3,205.3L543.2,203.9L545.5,202.4L547.6,201.7L549.9,201.2L552.6,200.7L555.2,199.8L557.4,197.1L557.5,195.4L559.7,195.9ZM635.7,204.9L633.1,203.3L631.3,200.9L634.0,202.4L636.6,204.7ZM654.8,196.3L657.1,196.1L657.1,197.5L655.0,197.5ZM659.3,195.0L657.3,195.0L659.6,194.0ZM637.0,192.7L637.5,194.5L636.6,192.9L635.9,191.3ZM623.4,181.8L625.5,182.5L624.8,182.8ZM564.1,180.5L566.2,180.2L565.0,181.4L562.3,183.0L559.7,183.5L561.4,181.8ZM618.9,178.2L621.6,179.1L623.9,180.3L621.6,179.8ZM573.8,179.5L573.3,178.2L574.4,178.0ZM616.3,175.9L617.2,177.3L615.7,177.0L614.9,175.0ZM579.7,175.2L579.3,177.3L578.6,176.8L578.6,175.0ZM588.0,169.0L590.6,169.9L594.2,171.3L596.8,172.2L598.9,173.8L599.5,175.0L601.8,175.7L602.7,176.8L601.2,177.5L602.1,179.1L603.9,180.9L605.7,182.3L607.8,183.5L606.5,184.2L603.9,183.3L601.6,182.3L599.5,180.3L597.2,178.9L595.6,179.5L594.2,181.6L591.5,181.6L589.7,180.7L588.0,179.6L585.3,180.2L586.7,178.0L585.7,175.6L583.6,174.1L580.9,173.1L578.2,172.2L576.5,172.4L575.9,171.0L577.7,169.5L575.6,169.7L574.7,168.8L572.9,167.6L572.9,166.7L575.6,166.0L578.4,166.7L578.8,168.8L579.7,171.0L581.4,171.0L583.6,168.8L586.2,168.5ZM606.5,174.1L609.2,172.7L610.6,172.9L610.1,174.5L607.4,176.3L604.8,176.3L603.5,175.0ZM611.3,173.3L609.2,171.1L608.0,169.9L610.1,171.1L611.9,173.3ZM565.9,170.8L566.2,171.8L564.4,172.0L564.1,171.0ZM567.6,171.3L567.6,170.8L570.3,170.3L572.6,171.1L571.2,171.5ZM566.7,161.8L567.6,163.2L568.7,162.6L568.9,164.6L567.5,164.8L568.0,166.5L567.1,165.8L566.7,163.9ZM563.6,145.5L562.7,147.3L562.0,147.6L561.3,145.1L561.6,145.2L561.4,145.0L561.1,143.2L562.9,143.2ZM567.1,119.1L567.6,118.4L568.2,117.9ZM571.7,105.9L572.8,105.3L574.2,105.9L574.7,106.9L574.2,108.7L573.5,109.8L572.4,110.5L571.5,109.8L571.7,107.8L570.6,106.9ZM565.2,106.6L564.4,106.2L565.7,106.0ZM575.6,105.2L577.4,105.0L579.0,104.6L579.5,105.5L578.6,106.4L577.4,106.0L576.5,107.5L575.4,106.4ZM584.1,100.2L586.2,99.1L587.8,97.5L588.9,95.4L588.7,93.5L589.4,92.6L591.2,92.1L591.5,93.7L592.4,95.4L591.5,97.5L590.6,98.1L590.5,100.0L590.1,101.6L590.3,102.1L589.4,103.2L588.5,103.6L588.5,102.5L587.4,103.0L586.7,103.9L585.7,104.1L583.6,104.1L583.2,104.6L582.1,105.2L581.4,106.0L580.2,105.2L580.4,104.1L578.2,104.1L576.5,104.6L575.1,104.8L573.8,105.3L572.8,105.2L573.5,104.3L575.6,102.9L577.0,102.3L580.0,102.3L581.8,102.1L583.0,100.7L583.2,99.1ZM598.8,88.7L596.3,89.2L594.5,91.0L592.0,89.9L590.1,90.1L590.6,91.4L589.4,91.9L588.5,90.5L589.6,88.7L591.2,88.7L591.9,86.9L592.2,84.8L594.2,86.8L596.5,87.5L598.1,86.9ZM601.2,86.0L603.9,84.8L601.2,86.6L598.6,87.8ZM605.7,84.5L607.4,83.4L610.1,82.2L607.4,83.9ZM614.5,78.3L615.4,76.9L617.7,75.4L617.2,76.1ZM594.7,73.3L595.1,76.5L597.2,78.8L594.2,78.6L593.6,81.3L594.9,82.9L592.4,83.9L592.2,82.2L592.4,79.0L592.8,76.0L592.0,73.3L592.8,70.7L593.6,69.2L594.5,71.2ZM655.2,73.1L658.7,74.2L657.9,74.6L654.7,73.7ZM646.4,71.5L648.1,71.5L649.0,72.1L646.4,71.9ZM585.7,68.4L583.6,68.0L585.3,67.5ZM634.0,67.5L634.5,67.3L636.1,68.0L635.7,68.4ZM659.6,39.9L657.0,39.3L659.6,38.8ZM590.6,34.6L595.1,35.1L592.4,35.8L588.0,35.3ZM599.5,30.9L606.5,32.1L601.2,32.6L594.2,32.3L588.9,33.0L583.6,32.1L590.6,30.7Z" fill="#e9eaea" stroke="#6a6a6a" stroke-width=".38" stroke-linejoin="round" fill-rule="evenodd"/></g>
<path d="M22.8,15.6v-2.0M22.8,271.4v2.0M31.6,15.6v-1.1M31.6,271.4v1.1M40.5,15.6v-2.0M40.5,271.4v2.0M49.3,15.6v-1.1M49.3,271.4v1.1M58.2,15.6v-2.0M58.2,271.4v2.0M67.0,15.6v-1.1M67.0,271.4v1.1M75.9,15.6v-2.0M75.9,271.4v2.0M84.7,15.6v-1.1M84.7,271.4v1.1M93.5,15.6v-2.0M93.5,271.4v2.0M102.4,15.6v-1.1M102.4,271.4v1.1M111.2,15.6v-2.0M111.2,271.4v2.0M120.1,15.6v-1.1M120.1,271.4v1.1M128.9,15.6v-2.0M128.9,271.4v2.0M137.8,15.6v-1.1M137.8,271.4v1.1M146.6,15.6v-2.0M146.6,271.4v2.0M155.5,15.6v-1.1M155.5,271.4v1.1M164.3,15.6v-2.0M164.3,271.4v2.0M173.1,15.6v-1.1M173.1,271.4v1.1M182.0,15.6v-2.0M182.0,271.4v2.0M190.8,15.6v-1.1M190.8,271.4v1.1M199.7,15.6v-2.0M199.7,271.4v2.0M208.5,15.6v-1.1M208.5,271.4v1.1M217.4,15.6v-2.0M217.4,271.4v2.0M226.2,15.6v-1.1M226.2,271.4v1.1M235.1,15.6v-2.0M235.1,271.4v2.0M243.9,15.6v-1.1M243.9,271.4v1.1M252.8,15.6v-2.0M252.8,271.4v2.0M261.6,15.6v-1.1M261.6,271.4v1.1M270.4,15.6v-2.0M270.4,271.4v2.0M279.3,15.6v-1.1M279.3,271.4v1.1M288.1,15.6v-2.0M288.1,271.4v2.0M297.0,15.6v-1.1M297.0,271.4v1.1M305.8,15.6v-2.0M305.8,271.4v2.0M314.7,15.6v-1.1M314.7,271.4v1.1M323.5,15.6v-2.0M323.5,271.4v2.0M332.4,15.6v-1.1M332.4,271.4v1.1M341.2,15.6v-2.0M341.2,271.4v2.0M350.0,15.6v-1.1M350.0,271.4v1.1M358.9,15.6v-2.0M358.9,271.4v2.0M367.7,15.6v-1.1M367.7,271.4v1.1M376.6,15.6v-2.0M376.6,271.4v2.0M385.4,15.6v-1.1M385.4,271.4v1.1M394.3,15.6v-2.0M394.3,271.4v2.0M403.1,15.6v-1.1M403.1,271.4v1.1M412.0,15.6v-2.0M412.0,271.4v2.0M420.8,15.6v-1.1M420.8,271.4v1.1M429.6,15.6v-2.0M429.6,271.4v2.0M438.5,15.6v-1.1M438.5,271.4v1.1M447.3,15.6v-2.0M447.3,271.4v2.0M456.2,15.6v-1.1M456.2,271.4v1.1M465.0,15.6v-2.0M465.0,271.4v2.0M473.9,15.6v-1.1M473.9,271.4v1.1M482.7,15.6v-2.0M482.7,271.4v2.0M491.6,15.6v-1.1M491.6,271.4v1.1M500.4,15.6v-2.0M500.4,271.4v2.0M509.3,15.6v-1.1M509.3,271.4v1.1M518.1,15.6v-2.0M518.1,271.4v2.0M526.9,15.6v-1.1M526.9,271.4v1.1M535.8,15.6v-2.0M535.8,271.4v2.0M544.6,15.6v-1.1M544.6,271.4v1.1M553.5,15.6v-2.0M553.5,271.4v2.0M562.3,15.6v-1.1M562.3,271.4v1.1M571.2,15.6v-2.0M571.2,271.4v2.0M580.0,15.6v-1.1M580.0,271.4v1.1M588.9,15.6v-2.0M588.9,271.4v2.0M597.7,15.6v-1.1M597.7,271.4v1.1M606.5,15.6v-2.0M606.5,271.4v2.0M615.4,15.6v-1.1M615.4,271.4v1.1M624.2,15.6v-2.0M624.2,271.4v2.0M633.1,15.6v-1.1M633.1,271.4v1.1M641.9,15.6v-2.0M641.9,271.4v2.0M650.8,15.6v-1.1M650.8,271.4v1.1M659.6,15.6v-2.0M659.6,271.4v2.0M22.8,271.4h-2.0M659.6,271.4h2.0M22.8,262.6h-1.1M659.6,262.6h1.1M22.8,253.8h-2.0M659.6,253.8h2.0M22.8,244.9h-1.1M659.6,244.9h1.1M22.8,236.1h-2.0M659.6,236.1h2.0M22.8,227.2h-1.1M659.6,227.2h1.1M22.8,218.4h-2.0M659.6,218.4h2.0M22.8,209.5h-1.1M659.6,209.5h1.1M22.8,200.7h-2.0M659.6,200.7h2.0M22.8,191.8h-1.1M659.6,191.8h1.1M22.8,183.0h-2.0M659.6,183.0h2.0M22.8,174.1h-1.1M659.6,174.1h1.1M22.8,165.3h-2.0M659.6,165.3h2.0M22.8,156.5h-1.1M659.6,156.5h1.1M22.8,147.6h-2.0M659.6,147.6h2.0M22.8,138.8h-1.1M659.6,138.8h1.1M22.8,129.9h-2.0M659.6,129.9h2.0M22.8,121.1h-1.1M659.6,121.1h1.1M22.8,112.2h-2.0M659.6,112.2h2.0M22.8,103.4h-1.1M659.6,103.4h1.1M22.8,94.5h-2.0M659.6,94.5h2.0M22.8,85.7h-1.1M659.6,85.7h1.1M22.8,76.9h-2.0M659.6,76.9h2.0M22.8,68.0h-1.1M659.6,68.0h1.1M22.8,59.2h-2.0M659.6,59.2h2.0M22.8,50.3h-1.1M659.6,50.3h1.1M22.8,41.5h-2.0M659.6,41.5h2.0M22.8,32.6h-1.1M659.6,32.6h1.1M22.8,23.8h-2.0M659.6,23.8h2.0" stroke="#777" stroke-width=".6" fill="none"/>
<rect x="22.8" y="15.6" width="636.8" height="255.9" fill="none" stroke="#777" stroke-width=".8"/>
<text class="tk" x="78.3" y="12.0" text-anchor="middle">150°W</text>
<text class="tk" x="78.3" y="279.6" text-anchor="middle">150°W</text>
<text class="tk" x="131.3" y="12.0" text-anchor="middle">120°W</text>
<text class="tk" x="131.3" y="279.6" text-anchor="middle">120°W</text>
<text class="tk" x="184.4" y="12.0" text-anchor="middle">90°W</text>
<text class="tk" x="184.4" y="279.6" text-anchor="middle">90°W</text>
<text class="tk" x="237.5" y="12.0" text-anchor="middle">60°W</text>
<text class="tk" x="237.5" y="279.6" text-anchor="middle">60°W</text>
<text class="tk" x="290.5" y="12.0" text-anchor="middle">30°W</text>
<text class="tk" x="290.5" y="279.6" text-anchor="middle">30°W</text>
<text class="tk" x="342.2" y="12.0" text-anchor="middle">0°</text>
<text class="tk" x="342.2" y="279.6" text-anchor="middle">0°</text>
<text class="tk" x="394.6" y="12.0" text-anchor="middle">30°E</text>
<text class="tk" x="394.6" y="279.6" text-anchor="middle">30°E</text>
<text class="tk" x="447.6" y="12.0" text-anchor="middle">60°E</text>
<text class="tk" x="447.6" y="279.6" text-anchor="middle">60°E</text>
<text class="tk" x="500.7" y="12.0" text-anchor="middle">90°E</text>
<text class="tk" x="500.7" y="279.6" text-anchor="middle">90°E</text>
<text class="tk" x="553.8" y="12.0" text-anchor="middle">120°E</text>
<text class="tk" x="553.8" y="279.6" text-anchor="middle">120°E</text>
<text class="tk" x="606.8" y="12.0" text-anchor="middle">150°E</text>
<text class="tk" x="606.8" y="279.6" text-anchor="middle">150°E</text>
<text class="tk" x="21.3" y="62.3" text-anchor="end">60°N</text>
<text class="tk" x="663.1" y="62.3">60°N</text>
<text class="tk" x="21.3" y="115.3" text-anchor="end">30°N</text>
<text class="tk" x="663.1" y="115.3">30°N</text>
<text class="tk" x="21.3" y="168.4" text-anchor="end">0°</text>
<text class="tk" x="663.1" y="168.4">0°</text>
<text class="tk" x="21.3" y="221.5" text-anchor="end">30°S</text>
<text class="tk" x="663.1" y="221.5">30°S</text>
<text x="24.5" y="29.3" font-size="17.7" stroke="#1a1a1a" stroke-width=".35">a</text>
<g class="d">
<circle cx="123.3" cy="78.6" r="2.4" fill="#d6567f"/>
<circle cx="124.3" cy="82.1" r="2.4" fill="#d6567f"/>
<circle cx="123.9" cy="85.5" r="2.4" fill="#1b1592"/>
<circle cx="123.7" cy="97.7" r="2.4" fill="#d6567f"/>
<circle cx="126.1" cy="98.5" r="2.4" fill="#8c26c9"/>
<circle cx="128.1" cy="100.1" r="2.4" fill="#d6567f"/>
<circle cx="129.7" cy="101.7" r="2.4" fill="#d6567f"/>
<circle cx="130.1" cy="103.1" r="2.4" fill="#8c26c9"/>
<circle cx="132.1" cy="104.6" r="2.4" fill="#d6567f"/>
<circle cx="133.7" cy="106.2" r="2.4" fill="#f29a5c"/>
<circle cx="134.6" cy="107.6" r="2.4" fill="#d6567f"/>
<circle cx="137.2" cy="101.7" r="2.4" fill="#1b1592"/>
<circle cx="138.2" cy="108.6" r="2.4" fill="#ecf54a"/>
<circle cx="142.8" cy="106.8" r="2.4" fill="#8c26c9"/>
<circle cx="143.2" cy="93.7" r="2.4" fill="#d6567f"/>
<circle cx="155.2" cy="94.9" r="2.4" fill="#d6567f"/>
<circle cx="155.2" cy="94.1" r="2.4" fill="#f29a5c"/>
<circle cx="176.3" cy="86.1" r="2.4" fill="#d6567f"/>
<circle cx="169.7" cy="93.7" r="2.4" fill="#f29a5c"/>
<circle cx="174.7" cy="92.1" r="2.4" fill="#d6567f"/>
<circle cx="173.7" cy="96.1" r="2.4" fill="#f29a5c"/>
<circle cx="181.0" cy="97.5" r="2.4" fill="#1b1592"/>
<circle cx="183.4" cy="90.7" r="2.4" fill="#f29a5c"/>
<circle cx="185.2" cy="90.9" r="2.4" fill="#d6567f"/>
<circle cx="189.0" cy="95.5" r="2.4" fill="#d6567f"/>
<circle cx="189.4" cy="98.7" r="2.4" fill="#1b1592"/>
<circle cx="191.8" cy="96.1" r="2.4" fill="#8c26c9"/>
<circle cx="194.0" cy="91.5" r="2.4" fill="#1b1592"/>
<circle cx="194.4" cy="94.5" r="2.4" fill="#8c26c9"/>
<circle cx="197.0" cy="90.1" r="2.4" fill="#f29a5c"/>
<circle cx="198.4" cy="92.5" r="2.4" fill="#8c26c9"/>
<circle cx="200.4" cy="89.1" r="2.4" fill="#f29a5c"/>
<circle cx="199.4" cy="94.5" r="2.4" fill="#8c26c9"/>
<circle cx="202.5" cy="95.5" r="2.4" fill="#d6567f"/>
<circle cx="204.5" cy="96.7" r="2.4" fill="#8c26c9"/>
<circle cx="206.1" cy="90.1" r="2.4" fill="#8c26c9"/>
<circle cx="206.5" cy="94.1" r="2.4" fill="#8c26c9"/>
<circle cx="207.5" cy="85.7" r="2.4" fill="#f29a5c"/>
<circle cx="210.5" cy="85.1" r="2.4" fill="#f29a5c"/>
<circle cx="213.9" cy="85.5" r="2.4" fill="#d6567f"/>
<circle cx="214.9" cy="90.1" r="2.4" fill="#d6567f"/>
<circle cx="211.5" cy="92.5" r="2.4" fill="#ecf54a"/>
<circle cx="209.7" cy="93.5" r="2.4" fill="#1b1592"/>
<circle cx="205.9" cy="100.5" r="2.4" fill="#ecf54a"/>
<circle cx="202.5" cy="102.1" r="2.4" fill="#8c26c9"/>
<circle cx="199.4" cy="101.5" r="2.4" fill="#ecf54a"/>
<circle cx="198.0" cy="103.7" r="2.4" fill="#1b1592"/>
<circle cx="197.8" cy="106.2" r="2.4" fill="#f29a5c"/>
<circle cx="192.0" cy="106.2" r="2.4" fill="#d6567f"/>
<circle cx="187.4" cy="106.6" r="2.4" fill="#d6567f"/>
<circle cx="182.0" cy="103.7" r="2.4" fill="#d6567f"/>
<circle cx="171.3" cy="101.7" r="2.4" fill="#ecf54a"/>
<circle cx="168.3" cy="102.7" r="2.4" fill="#d6567f"/>
<circle cx="169.9" cy="107.2" r="2.4" fill="#d6567f"/>
<circle cx="167.3" cy="109.2" r="2.4" fill="#d6567f"/>
<circle cx="168.3" cy="111.8" r="2.4" fill="#d6567f"/>
<circle cx="166.3" cy="113.2" r="2.4" fill="#d6567f"/>
<circle cx="172.3" cy="112.8" r="2.4" fill="#d6567f"/>
<circle cx="161.9" cy="121.0" r="2.4" fill="#f29a5c"/>
<circle cx="163.3" cy="120.2" r="2.4" fill="#f29a5c"/>
<circle cx="197.4" cy="114.6" r="2.4" fill="#f29a5c"/>
<circle cx="194.4" cy="116.8" r="2.4" fill="#d6567f"/>
<circle cx="196.0" cy="119.8" r="2.4" fill="#ecf54a"/>
<circle cx="199.4" cy="119.8" r="2.4" fill="#f29a5c"/>
<circle cx="195.0" cy="124.8" r="2.4" fill="#1b1592"/>
<circle cx="158.3" cy="129.3" r="2.4" fill="#ecf54a"/>
<circle cx="164.9" cy="131.7" r="2.4" fill="#f29a5c"/>
<circle cx="167.7" cy="131.7" r="2.4" fill="#ecf54a"/>
<circle cx="178.9" cy="139.7" r="2.4" fill="#8c26c9"/>
<circle cx="183.0" cy="141.3" r="2.4" fill="#8c26c9"/>
<circle cx="213.1" cy="133.3" r="2.4" fill="#d6567f"/>
<circle cx="223.9" cy="133.9" r="2.4" fill="#f29a5c"/>
<circle cx="200.0" cy="150.0" r="2.4" fill="#f29a5c"/>
<circle cx="220.5" cy="147.7" r="2.4" fill="#f29a5c"/>
<circle cx="226.6" cy="147.7" r="2.4" fill="#f29a5c"/>
<circle cx="232.2" cy="146.9" r="2.4" fill="#f29a5c"/>
<circle cx="209.9" cy="157.8" r="2.4" fill="#d6567f"/>
<circle cx="201.8" cy="165.4" r="2.4" fill="#d6567f"/>
<circle cx="200.6" cy="169.8" r="2.4" fill="#f29a5c"/>
<circle cx="234.8" cy="171.4" r="2.4" fill="#d6567f"/>
<circle cx="205.0" cy="187.3" r="2.4" fill="#d6567f"/>
<circle cx="223.7" cy="196.7" r="2.4" fill="#f29a5c"/>
<circle cx="229.5" cy="197.5" r="2.4" fill="#ecf54a"/>
<circle cx="253.8" cy="195.3" r="2.4" fill="#8c26c9"/>
<circle cx="272.7" cy="172.6" r="2.4" fill="#f29a5c"/>
<circle cx="279.8" cy="179.2" r="2.4" fill="#f29a5c"/>
<circle cx="277.3" cy="178.8" r="2.4" fill="#ecf54a"/>
<circle cx="269.3" cy="182.8" r="2.4" fill="#ecf54a"/>
<circle cx="275.3" cy="185.2" r="2.4" fill="#f29a5c"/>
<circle cx="272.3" cy="187.9" r="2.4" fill="#ecf54a"/>
<circle cx="273.3" cy="189.3" r="2.4" fill="#ecf54a"/>
<circle cx="269.7" cy="201.9" r="2.4" fill="#f29a5c"/>
<circle cx="263.3" cy="201.3" r="2.4" fill="#d6567f"/>
<circle cx="258.7" cy="207.9" r="2.4" fill="#d6567f"/>
<circle cx="263.9" cy="206.3" r="2.4" fill="#8c26c9"/>
<circle cx="261.3" cy="206.3" r="2.4" fill="#8c26c9"/>
<circle cx="257.3" cy="206.3" r="2.4" fill="#8c26c9"/>
<circle cx="249.2" cy="207.3" r="2.4" fill="#ecf54a"/>
<circle cx="246.6" cy="210.4" r="2.4" fill="#ecf54a"/>
<circle cx="244.2" cy="211.4" r="2.4" fill="#ecf54a"/>
<circle cx="254.6" cy="212.0" r="2.4" fill="#d6567f"/>
<circle cx="252.6" cy="210.4" r="2.4" fill="#ecf54a"/>
<circle cx="239.2" cy="210.4" r="2.4" fill="#8c26c9"/>
<circle cx="255.2" cy="214.8" r="2.4" fill="#f29a5c"/>
<circle cx="250.2" cy="219.4" r="2.4" fill="#f29a5c"/>
<circle cx="227.5" cy="215.4" r="2.4" fill="#f29a5c"/>
<circle cx="227.5" cy="221.4" r="2.4" fill="#d6567f"/>
<circle cx="216.1" cy="224.8" r="2.4" fill="#d6567f"/>
<circle cx="237.2" cy="226.4" r="2.4" fill="#f29a5c"/>
<circle cx="326.6" cy="143.7" r="2.4" fill="#ecf54a"/>
<circle cx="333.0" cy="146.1" r="2.4" fill="#ecf54a"/>
<circle cx="337.0" cy="144.1" r="2.4" fill="#ecf54a"/>
<circle cx="316.9" cy="149.1" r="2.4" fill="#ecf54a"/>
<circle cx="321.5" cy="155.1" r="2.4" fill="#f29a5c"/>
<circle cx="334.0" cy="156.5" r="2.4" fill="#d6567f"/>
<circle cx="349.0" cy="77.7" r="2.4" fill="#d6567f"/>
<circle cx="355.5" cy="77.1" r="2.4" fill="#d6567f"/>
<circle cx="353.1" cy="79.4" r="2.4" fill="#8c26c9"/>
<circle cx="359.0" cy="81.2" r="2.4" fill="#8c26c9"/>
<circle cx="357.2" cy="85.3" r="2.4" fill="#d6567f"/>
<circle cx="352.0" cy="84.1" r="2.4" fill="#8c26c9"/>
<circle cx="364.8" cy="79.4" r="2.4" fill="#d6567f"/>
<circle cx="367.2" cy="81.2" r="2.4" fill="#d6567f"/>
<circle cx="364.3" cy="83.5" r="2.4" fill="#8c26c9"/>
<circle cx="355.2" cy="74.7" r="2.4" fill="#1b1592"/>
<circle cx="347.9" cy="80.0" r="2.4" fill="#d6567f"/>
<circle cx="353.1" cy="82.9" r="2.4" fill="#d6567f"/>
<circle cx="359.6" cy="60.1" r="2.4" fill="#f29a5c"/>
<circle cx="372.2" cy="60.9" r="2.4" fill="#d6567f"/>
<circle cx="384.7" cy="59.5" r="2.4" fill="#d6567f"/>
<circle cx="396.2" cy="62.4" r="2.4" fill="#d6567f"/>
<circle cx="394.1" cy="60.4" r="2.4" fill="#ecf54a"/>
<circle cx="335.8" cy="66.0" r="2.4" fill="#d6567f"/>
<circle cx="333.6" cy="67.1" r="2.4" fill="#8c26c9"/>
<circle cx="341.1" cy="70.6" r="2.4" fill="#ecf54a"/>
<circle cx="338.5" cy="68.6" r="2.4" fill="#1b1592"/>
<circle cx="329.7" cy="69.5" r="2.4" fill="#f29a5c"/>
<circle cx="329.5" cy="71.8" r="2.4" fill="#f29a5c"/>
<circle cx="335.6" cy="71.2" r="2.4" fill="#d6567f"/>
<circle cx="335.3" cy="74.5" r="2.4" fill="#f29a5c"/>
<circle cx="337.9" cy="74.5" r="2.4" fill="#f29a5c"/>
<circle cx="340.2" cy="73.6" r="2.4" fill="#d6567f"/>
<circle cx="342.0" cy="74.5" r="2.4" fill="#f29a5c"/>
<circle cx="342.6" cy="75.3" r="2.4" fill="#d6567f"/>
<circle cx="362.3" cy="67.1" r="2.4" fill="#ecf54a"/>
<circle cx="359.0" cy="67.7" r="2.4" fill="#d6567f"/>
<circle cx="363.7" cy="67.7" r="2.4" fill="#f29a5c"/>
<circle cx="359.6" cy="71.0" r="2.4" fill="#f29a5c"/>
<circle cx="356.1" cy="71.8" r="2.4" fill="#8c26c9"/>
<circle cx="357.8" cy="73.6" r="2.4" fill="#1b1592"/>
<circle cx="366.0" cy="71.2" r="2.4" fill="#d6567f"/>
<circle cx="347.0" cy="75.3" r="2.4" fill="#d6567f"/>
<circle cx="346.1" cy="76.5" r="2.4" fill="#d6567f"/>
<circle cx="349.0" cy="73.8" r="2.4" fill="#f29a5c"/>
<circle cx="351.4" cy="75.9" r="2.4" fill="#d6567f"/>
<circle cx="353.1" cy="75.1" r="2.4" fill="#1b1592"/>
<circle cx="344.7" cy="79.4" r="2.4" fill="#8c26c9"/>
<circle cx="360.2" cy="77.7" r="2.4" fill="#d6567f"/>
<circle cx="362.3" cy="74.7" r="2.4" fill="#8c26c9"/>
<circle cx="364.8" cy="75.3" r="2.4" fill="#8c26c9"/>
<circle cx="366.6" cy="77.1" r="2.4" fill="#8c26c9"/>
<circle cx="356.9" cy="79.4" r="2.4" fill="#8c26c9"/>
<circle cx="361.9" cy="79.4" r="2.4" fill="#d6567f"/>
<circle cx="369.5" cy="78.8" r="2.4" fill="#8c26c9"/>
<circle cx="374.2" cy="74.7" r="2.4" fill="#d6567f"/>
<circle cx="370.9" cy="75.3" r="2.4" fill="#1b1592"/>
<circle cx="377.7" cy="73.6" r="2.4" fill="#1b1592"/>
<circle cx="375.4" cy="77.7" r="2.4" fill="#d6567f"/>
<circle cx="374.2" cy="82.0" r="2.4" fill="#d6567f"/>
<circle cx="369.2" cy="84.7" r="2.4" fill="#d6567f"/>
<circle cx="352.5" cy="81.2" r="2.4" fill="#d6567f"/>
<circle cx="349.6" cy="81.8" r="2.4" fill="#8c26c9"/>
<circle cx="354.9" cy="82.3" r="2.4" fill="#d6567f"/>
<circle cx="359.0" cy="84.1" r="2.4" fill="#d6567f"/>
<circle cx="357.8" cy="83.5" r="2.4" fill="#8c26c9"/>
<circle cx="361.6" cy="85.3" r="2.4" fill="#8c26c9"/>
<circle cx="360.7" cy="87.6" r="2.4" fill="#8c26c9"/>
<circle cx="350.8" cy="85.3" r="2.4" fill="#d6567f"/>
<circle cx="354.1" cy="86.2" r="2.4" fill="#8c26c9"/>
<circle cx="348.7" cy="84.7" r="2.4" fill="#1b1592"/>
<circle cx="346.1" cy="84.7" r="2.4" fill="#d6567f"/>
<circle cx="356.6" cy="87.4" r="2.4" fill="#f29a5c"/>
<circle cx="353.1" cy="89.4" r="2.4" fill="#f29a5c"/>
<circle cx="349.6" cy="90.0" r="2.4" fill="#d6567f"/>
<circle cx="347.3" cy="88.8" r="2.4" fill="#d6567f"/>
<circle cx="339.4" cy="82.0" r="2.4" fill="#f29a5c"/>
<circle cx="339.7" cy="86.7" r="2.4" fill="#8c26c9"/>
<circle cx="343.2" cy="88.8" r="2.4" fill="#f29a5c"/>
<circle cx="344.7" cy="92.5" r="2.4" fill="#f29a5c"/>
<circle cx="363.1" cy="91.7" r="2.4" fill="#f29a5c"/>
<circle cx="368.1" cy="93.7" r="2.4" fill="#ecf54a"/>
<circle cx="366.0" cy="93.7" r="2.4" fill="#f29a5c"/>
<circle cx="358.6" cy="100.5" r="2.4" fill="#d6567f"/>
<circle cx="347.3" cy="100.3" r="2.4" fill="#ecf54a"/>
<circle cx="345.8" cy="101.1" r="2.4" fill="#f29a5c"/>
<circle cx="364.0" cy="107.8" r="2.4" fill="#f29a5c"/>
<circle cx="325.4" cy="92.9" r="2.4" fill="#d6567f"/>
<circle cx="324.1" cy="97.2" r="2.4" fill="#d6567f"/>
<circle cx="334.0" cy="94.3" r="2.4" fill="#d6567f"/>
<circle cx="339.9" cy="95.8" r="2.4" fill="#d6567f"/>
<circle cx="333.0" cy="101.1" r="2.4" fill="#f29a5c"/>
<circle cx="329.4" cy="105.2" r="2.4" fill="#ecf54a"/>
<circle cx="327.4" cy="106.6" r="2.4" fill="#f29a5c"/>
<circle cx="389.4" cy="70.6" r="2.4" fill="#d6567f"/>
<circle cx="383.0" cy="77.7" r="2.4" fill="#8c26c9"/>
<circle cx="385.7" cy="75.9" r="2.4" fill="#8c26c9"/>
<circle cx="394.7" cy="76.8" r="2.4" fill="#1b1592"/>
<circle cx="389.7" cy="82.3" r="2.4" fill="#d6567f"/>
<circle cx="392.9" cy="83.2" r="2.4" fill="#d6567f"/>
<circle cx="395.3" cy="83.5" r="2.4" fill="#d6567f"/>
<circle cx="397.9" cy="82.9" r="2.4" fill="#f29a5c"/>
<circle cx="386.9" cy="87.0" r="2.4" fill="#d6567f"/>
<circle cx="386.5" cy="88.6" r="2.4" fill="#f29a5c"/>
<circle cx="381.8" cy="90.5" r="2.4" fill="#d6567f"/>
<circle cx="392.4" cy="93.2" r="2.4" fill="#d6567f"/>
<circle cx="397.6" cy="95.2" r="2.4" fill="#f29a5c"/>
<circle cx="382.6" cy="98.7" r="2.4" fill="#ecf54a"/>
<circle cx="388.8" cy="97.8" r="2.4" fill="#f29a5c"/>
<circle cx="394.7" cy="100.7" r="2.4" fill="#ecf54a"/>
<circle cx="408.1" cy="70.6" r="2.4" fill="#d6567f"/>
<circle cx="407.3" cy="67.1" r="2.4" fill="#d6567f"/>
<circle cx="405.0" cy="69.5" r="2.4" fill="#f29a5c"/>
<circle cx="411.1" cy="69.5" r="2.4" fill="#d6567f"/>
<circle cx="418.3" cy="66.3" r="2.4" fill="#d6567f"/>
<circle cx="425.1" cy="66.0" r="2.4" fill="#d6567f"/>
<circle cx="427.7" cy="67.4" r="2.4" fill="#f29a5c"/>
<circle cx="449.4" cy="68.3" r="2.4" fill="#f29a5c"/>
<circle cx="469.4" cy="68.6" r="2.4" fill="#d6567f"/>
<circle cx="405.5" cy="76.1" r="2.4" fill="#1b1592"/>
<circle cx="405.2" cy="77.7" r="2.4" fill="#8c26c9"/>
<circle cx="407.3" cy="79.4" r="2.4" fill="#8c26c9"/>
<circle cx="403.1" cy="81.2" r="2.4" fill="#8c26c9"/>
<circle cx="411.1" cy="82.3" r="2.4" fill="#8c26c9"/>
<circle cx="407.0" cy="82.7" r="2.4" fill="#f29a5c"/>
<circle cx="400.0" cy="79.2" r="2.4" fill="#d6567f"/>
<circle cx="399.1" cy="82.3" r="2.4" fill="#f29a5c"/>
<circle cx="398.8" cy="84.1" r="2.4" fill="#f29a5c"/>
<circle cx="419.9" cy="92.3" r="2.4" fill="#f29a5c"/>
<circle cx="406.4" cy="102.0" r="2.4" fill="#f29a5c"/>
<circle cx="419.3" cy="105.8" r="2.4" fill="#f29a5c"/>
<circle cx="418.7" cy="106.9" r="2.4" fill="#d6567f"/>
<circle cx="421.6" cy="108.1" r="2.4" fill="#d6567f"/>
<circle cx="432.2" cy="101.1" r="2.4" fill="#f29a5c"/>
<circle cx="434.5" cy="100.8" r="2.4" fill="#8c26c9"/>
<circle cx="431.6" cy="102.8" r="2.4" fill="#f29a5c"/>
<circle cx="430.6" cy="104.6" r="2.4" fill="#d6567f"/>
<circle cx="432.4" cy="106.4" r="2.4" fill="#ecf54a"/>
<circle cx="446.0" cy="101.7" r="2.4" fill="#ecf54a"/>
<circle cx="450.7" cy="105.2" r="2.4" fill="#ecf54a"/>
<circle cx="455.0" cy="95.0" r="2.4" fill="#f29a5c"/>
<circle cx="464.0" cy="90.5" r="2.4" fill="#f29a5c"/>
<circle cx="459.1" cy="95.8" r="2.4" fill="#8c26c9"/>
<circle cx="463.2" cy="93.2" r="2.4" fill="#8c26c9"/>
<circle cx="463.8" cy="95.2" r="2.4" fill="#8c26c9"/>
<circle cx="467.5" cy="93.5" r="2.4" fill="#d6567f"/>
<circle cx="405.0" cy="108.0" r="2.4" fill="#f29a5c"/>
<circle cx="402.3" cy="109.1" r="2.4" fill="#f29a5c"/>
<circle cx="403.8" cy="106.1" r="2.4" fill="#d6567f"/>
<circle cx="392.9" cy="111.1" r="2.4" fill="#ecf54a"/>
<circle cx="398.4" cy="112.9" r="2.4" fill="#f29a5c"/>
<circle cx="395.9" cy="111.5" r="2.4" fill="#8c26c9"/>
<circle cx="394.4" cy="116.4" r="2.4" fill="#d6567f"/>
<circle cx="394.7" cy="114.6" r="2.4" fill="#8c26c9"/>
<circle cx="397.3" cy="119.3" r="2.4" fill="#1b1592"/>
<circle cx="410.5" cy="122.6" r="2.4" fill="#f29a5c"/>
<circle cx="410.1" cy="127.9" r="2.4" fill="#ecf54a"/>
<circle cx="397.6" cy="138.1" r="2.4" fill="#f29a5c"/>
<circle cx="400.2" cy="140.6" r="2.4" fill="#f29a5c"/>
<circle cx="409.3" cy="150.1" r="2.4" fill="#f29a5c"/>
<circle cx="425.7" cy="114.1" r="2.4" fill="#f29a5c"/>
<circle cx="423.1" cy="122.2" r="2.4" fill="#f29a5c"/>
<circle cx="432.2" cy="108.4" r="2.4" fill="#ecf54a"/>
<circle cx="433.3" cy="113.5" r="2.4" fill="#d6567f"/>
<circle cx="429.2" cy="118.7" r="2.4" fill="#f29a5c"/>
<circle cx="428.4" cy="121.1" r="2.4" fill="#d6567f"/>
<circle cx="431.9" cy="121.3" r="2.4" fill="#d6567f"/>
<circle cx="436.5" cy="122.8" r="2.4" fill="#f29a5c"/>
<circle cx="439.8" cy="123.8" r="2.4" fill="#ecf54a"/>
<circle cx="438.6" cy="121.1" r="2.4" fill="#8c26c9"/>
<circle cx="456.7" cy="110.0" r="2.4" fill="#ecf54a"/>
<circle cx="461.7" cy="121.1" r="2.4" fill="#ecf54a"/>
<circle cx="472.9" cy="90.6" r="2.4" fill="#d6567f"/>
<circle cx="476.4" cy="90.6" r="2.4" fill="#d6567f"/>
<circle cx="462.3" cy="104.6" r="2.4" fill="#f29a5c"/>
<circle cx="465.3" cy="105.0" r="2.4" fill="#d6567f"/>
<circle cx="468.8" cy="103.8" r="2.4" fill="#ecf54a"/>
<circle cx="472.9" cy="105.2" r="2.4" fill="#f29a5c"/>
<circle cx="470.0" cy="106.4" r="2.4" fill="#f29a5c"/>
<circle cx="465.6" cy="107.8" r="2.4" fill="#8c26c9"/>
<circle cx="472.3" cy="108.7" r="2.4" fill="#f29a5c"/>
<circle cx="470.0" cy="111.4" r="2.4" fill="#d6567f"/>
<circle cx="466.1" cy="113.4" r="2.4" fill="#d6567f"/>
<circle cx="475.2" cy="111.7" r="2.4" fill="#ecf54a"/>
<circle cx="477.6" cy="112.8" r="2.4" fill="#f29a5c"/>
<circle cx="480.5" cy="114.6" r="2.4" fill="#f29a5c"/>
<circle cx="474.6" cy="118.1" r="2.4" fill="#d6567f"/>
<circle cx="478.1" cy="118.1" r="2.4" fill="#ecf54a"/>
<circle cx="475.0" cy="121.4" r="2.4" fill="#ecf54a"/>
<circle cx="461.8" cy="121.0" r="2.4" fill="#ecf54a"/>
<circle cx="477.6" cy="124.9" r="2.4" fill="#ecf54a"/>
<circle cx="474.6" cy="125.7" r="2.4" fill="#ecf54a"/>
<circle cx="468.8" cy="124.5" r="2.4" fill="#f29a5c"/>
<circle cx="470.3" cy="126.5" r="2.4" fill="#d6567f"/>
<circle cx="469.4" cy="131.6" r="2.4" fill="#d6567f"/>
<circle cx="471.4" cy="133.3" r="2.4" fill="#f29a5c"/>
<circle cx="479.3" cy="134.8" r="2.4" fill="#d6567f"/>
<circle cx="483.4" cy="136.5" r="2.4" fill="#d6567f"/>
<circle cx="487.8" cy="134.5" r="2.4" fill="#ecf54a"/>
<circle cx="477.0" cy="141.9" r="2.4" fill="#f29a5c"/>
<circle cx="482.2" cy="142.7" r="2.4" fill="#f29a5c"/>
<circle cx="475.2" cy="144.4" r="2.4" fill="#f29a5c"/>
<circle cx="478.7" cy="144.1" r="2.4" fill="#8c26c9"/>
<circle cx="484.6" cy="116.9" r="2.4" fill="#ecf54a"/>
<circle cx="483.2" cy="118.7" r="2.4" fill="#f29a5c"/>
<circle cx="487.5" cy="121.0" r="2.4" fill="#d6567f"/>
<circle cx="486.7" cy="126.3" r="2.4" fill="#f29a5c"/>
<circle cx="484.2" cy="128.6" r="2.4" fill="#ecf54a"/>
<circle cx="491.0" cy="116.9" r="2.4" fill="#ecf54a"/>
<circle cx="489.3" cy="118.7" r="2.4" fill="#f29a5c"/>
<circle cx="492.2" cy="116.3" r="2.4" fill="#f29a5c"/>
<circle cx="491.6" cy="121.0" r="2.4" fill="#d6567f"/>
<circle cx="493.0" cy="124.0" r="2.4" fill="#f29a5c"/>
<circle cx="497.2" cy="118.7" r="2.4" fill="#ecf54a"/>
<circle cx="495.1" cy="121.6" r="2.4" fill="#f29a5c"/>
<circle cx="496.5" cy="125.7" r="2.4" fill="#f29a5c"/>
<circle cx="499.2" cy="121.6" r="2.4" fill="#d6567f"/>
<circle cx="500.4" cy="123.4" r="2.4" fill="#ecf54a"/>
<circle cx="501.0" cy="125.1" r="2.4" fill="#d6567f"/>
<circle cx="502.7" cy="119.3" r="2.4" fill="#f29a5c"/>
<circle cx="505.3" cy="118.5" r="2.4" fill="#ecf54a"/>
<circle cx="505.1" cy="122.2" r="2.4" fill="#f29a5c"/>
<circle cx="503.3" cy="124.0" r="2.4" fill="#f29a5c"/>
<circle cx="492.8" cy="129.8" r="2.4" fill="#f29a5c"/>
<circle cx="511.2" cy="136.5" r="2.4" fill="#f29a5c"/>
<circle cx="518.2" cy="141.5" r="2.4" fill="#f29a5c"/>
<circle cx="532.0" cy="137.4" r="2.4" fill="#f29a5c"/>
<circle cx="529.1" cy="128.6" r="2.4" fill="#8c26c9"/>
<circle cx="527.9" cy="128.1" r="2.4" fill="#8c26c9"/>
<circle cx="534.9" cy="125.7" r="2.4" fill="#d6567f"/>
<circle cx="537.3" cy="124.5" r="2.4" fill="#f29a5c"/>
<circle cx="537.3" cy="128.1" r="2.4" fill="#d6567f"/>
<circle cx="524.4" cy="102.1" r="2.4" fill="#f29a5c"/>
<circle cx="528.5" cy="98.0" r="2.4" fill="#d6567f"/>
<circle cx="534.9" cy="94.1" r="2.4" fill="#d6567f"/>
<circle cx="538.2" cy="93.5" r="2.4" fill="#d6567f"/>
<circle cx="539.0" cy="99.1" r="2.4" fill="#8c26c9"/>
<circle cx="532.6" cy="105.2" r="2.4" fill="#d6567f"/>
<circle cx="534.4" cy="105.2" r="2.4" fill="#d6567f"/>
<circle cx="524.6" cy="111.4" r="2.4" fill="#d6567f"/>
<circle cx="528.5" cy="111.4" r="2.4" fill="#f29a5c"/>
<circle cx="529.4" cy="113.4" r="2.4" fill="#d6567f"/>
<circle cx="529.7" cy="81.1" r="2.4" fill="#f29a5c"/>
<circle cx="564.3" cy="84.9" r="2.4" fill="#d6567f"/>
<circle cx="562.7" cy="89.9" r="2.4" fill="#8c26c9"/>
<circle cx="564.3" cy="88.1" r="2.4" fill="#1b1592"/>
<circle cx="560.6" cy="89.3" r="2.4" fill="#1b1592"/>
<circle cx="570.0" cy="91.7" r="2.4" fill="#d6567f"/>
<circle cx="559.2" cy="92.2" r="2.4" fill="#d6567f"/>
<circle cx="554.9" cy="93.2" r="2.4" fill="#8c26c9"/>
<circle cx="551.9" cy="95.2" r="2.4" fill="#8c26c9"/>
<circle cx="535.0" cy="94.0" r="2.4" fill="#d6567f"/>
<circle cx="538.1" cy="93.4" r="2.4" fill="#d6567f"/>
<circle cx="543.4" cy="94.0" r="2.4" fill="#d6567f"/>
<circle cx="539.3" cy="95.8" r="2.4" fill="#f29a5c"/>
<circle cx="548.1" cy="95.2" r="2.4" fill="#f29a5c"/>
<circle cx="545.8" cy="96.0" r="2.4" fill="#ecf54a"/>
<circle cx="556.1" cy="96.9" r="2.4" fill="#f29a5c"/>
<circle cx="562.7" cy="97.2" r="2.4" fill="#d6567f"/>
<circle cx="566.3" cy="95.2" r="2.4" fill="#ecf54a"/>
<circle cx="565.1" cy="99.9" r="2.4" fill="#8c26c9"/>
<circle cx="565.9" cy="101.9" r="2.4" fill="#1b1592"/>
<circle cx="528.4" cy="97.8" r="2.4" fill="#d6567f"/>
<circle cx="524.3" cy="102.0" r="2.4" fill="#f29a5c"/>
<circle cx="538.5" cy="99.0" r="2.4" fill="#8c26c9"/>
<circle cx="541.1" cy="98.7" r="2.4" fill="#8c26c9"/>
<circle cx="542.8" cy="100.7" r="2.4" fill="#d6567f"/>
<circle cx="555.1" cy="99.9" r="2.4" fill="#d6567f"/>
<circle cx="556.9" cy="99.9" r="2.4" fill="#f29a5c"/>
<circle cx="553.4" cy="102.2" r="2.4" fill="#d6567f"/>
<circle cx="547.5" cy="101.6" r="2.4" fill="#ecf54a"/>
<circle cx="550.7" cy="102.6" r="2.4" fill="#f29a5c"/>
<circle cx="548.1" cy="104.0" r="2.4" fill="#f29a5c"/>
<circle cx="532.9" cy="104.9" r="2.4" fill="#d6567f"/>
<circle cx="534.6" cy="104.9" r="2.4" fill="#d6567f"/>
<circle cx="539.9" cy="104.8" r="2.4" fill="#8c26c9"/>
<circle cx="547.5" cy="108.1" r="2.4" fill="#d6567f"/>
<circle cx="546.3" cy="110.7" r="2.4" fill="#1b1592"/>
<circle cx="550.4" cy="109.8" r="2.4" fill="#8c26c9"/>
<circle cx="553.4" cy="110.0" r="2.4" fill="#8c26c9"/>
<circle cx="556.1" cy="110.4" r="2.4" fill="#1b1592"/>
<circle cx="554.9" cy="111.0" r="2.4" fill="#8c26c9"/>
<circle cx="542.2" cy="111.2" r="2.4" fill="#d6567f"/>
<circle cx="549.3" cy="111.2" r="2.4" fill="#d6567f"/>
<circle cx="540.8" cy="115.9" r="2.4" fill="#d6567f"/>
<circle cx="545.5" cy="115.4" r="2.4" fill="#8c26c9"/>
<circle cx="556.7" cy="113.1" r="2.4" fill="#d6567f"/>
<circle cx="554.3" cy="116.8" r="2.4" fill="#8c26c9"/>
<circle cx="524.7" cy="111.3" r="2.4" fill="#d6567f"/>
<circle cx="529.4" cy="113.3" r="2.4" fill="#d6567f"/>
<circle cx="528.4" cy="111.6" r="2.4" fill="#f29a5c"/>
<circle cx="550.7" cy="120.4" r="2.4" fill="#ecf54a"/>
<circle cx="548.7" cy="122.1" r="2.4" fill="#f29a5c"/>
<circle cx="547.5" cy="124.1" r="2.4" fill="#f29a5c"/>
<circle cx="554.0" cy="123.3" r="2.4" fill="#1b1592"/>
<circle cx="555.7" cy="121.5" r="2.4" fill="#8c26c9"/>
<circle cx="571.2" cy="106.3" r="2.4" fill="#d6567f"/>
<circle cx="590.3" cy="89.9" r="2.4" fill="#1b1592"/>
<circle cx="589.7" cy="92.2" r="2.4" fill="#1b1592"/>
<circle cx="590.3" cy="95.2" r="2.4" fill="#8c26c9"/>
<circle cx="589.9" cy="98.1" r="2.4" fill="#d6567f"/>
<circle cx="589.1" cy="103.4" r="2.4" fill="#8c26c9"/>
<circle cx="587.9" cy="101.0" r="2.4" fill="#1b1592"/>
<circle cx="587.3" cy="102.8" r="2.4" fill="#1b1592"/>
<circle cx="584.4" cy="101.6" r="2.4" fill="#8c26c9"/>
<circle cx="583.2" cy="104.5" r="2.4" fill="#8c26c9"/>
<circle cx="580.9" cy="104.0" r="2.4" fill="#8c26c9"/>
<circle cx="576.8" cy="104.5" r="2.4" fill="#f29a5c"/>
<circle cx="578.2" cy="105.4" r="2.4" fill="#ecf54a"/>
<circle cx="540.5" cy="124.4" r="2.4" fill="#f29a5c"/>
<circle cx="537.6" cy="124.8" r="2.4" fill="#f29a5c"/>
<circle cx="535.2" cy="126.2" r="2.4" fill="#d6567f"/>
<circle cx="543.4" cy="126.0" r="2.4" fill="#d6567f"/>
<circle cx="537.0" cy="128.0" r="2.4" fill="#d6567f"/>
<circle cx="526.1" cy="145.5" r="2.4" fill="#f29a5c"/>
<circle cx="529.7" cy="146.5" r="2.4" fill="#d6567f"/>
<circle cx="554.8" cy="142.0" r="2.4" fill="#ecf54a"/>
<circle cx="553.4" cy="139.7" r="2.4" fill="#f29a5c"/>
<circle cx="554.5" cy="139.1" r="2.4" fill="#f29a5c"/>
<circle cx="536.0" cy="163.1" r="2.4" fill="#ecf54a"/>
<circle cx="478.2" cy="148.5" r="2.4" fill="#f29a5c"/>
<circle cx="475.3" cy="149.1" r="2.4" fill="#f29a5c"/>
<circle cx="481.7" cy="153.5" r="2.4" fill="#d6567f"/>
<circle cx="483.1" cy="152.9" r="2.4" fill="#f29a5c"/>
<circle cx="515.1" cy="159.6" r="2.4" fill="#f29a5c"/>
<circle cx="519.8" cy="159.6" r="2.4" fill="#ecf54a"/>
<circle cx="520.9" cy="161.0" r="2.4" fill="#f29a5c"/>
<circle cx="524.4" cy="163.1" r="2.4" fill="#f29a5c"/>
<circle cx="523.9" cy="168.7" r="2.4" fill="#d6567f"/>
<circle cx="526.0" cy="171.3" r="2.4" fill="#1b1592"/>
<circle cx="530.1" cy="177.2" r="2.4" fill="#d6567f"/>
<circle cx="536.2" cy="177.8" r="2.4" fill="#1b1592"/>
<circle cx="533.8" cy="178.1" r="2.4" fill="#f29a5c"/>
<circle cx="539.1" cy="178.1" r="2.4" fill="#f29a5c"/>
<circle cx="536.4" cy="179.3" r="2.4" fill="#d6567f"/>
<circle cx="540.3" cy="178.9" r="2.4" fill="#8c26c9"/>
<circle cx="541.4" cy="180.1" r="2.4" fill="#8c26c9"/>
<circle cx="344.6" cy="142.0" r="2.4" fill="#ecf54a"/>
<circle cx="356.6" cy="144.6" r="2.4" fill="#f29a5c"/>
<circle cx="354.3" cy="142.8" r="2.4" fill="#ecf54a"/>
<circle cx="353.9" cy="147.2" r="2.4" fill="#d6567f"/>
<circle cx="353.6" cy="150.2" r="2.4" fill="#f29a5c"/>
<circle cx="344.3" cy="153.0" r="2.4" fill="#ecf54a"/>
<circle cx="340.8" cy="156.0" r="2.4" fill="#f29a5c"/>
<circle cx="347.4" cy="153.4" r="2.4" fill="#f29a5c"/>
<circle cx="349.5" cy="154.8" r="2.4" fill="#d6567f"/>
<circle cx="352.2" cy="156.0" r="2.4" fill="#f29a5c"/>
<circle cx="351.3" cy="157.3" r="2.4" fill="#f29a5c"/>
<circle cx="364.0" cy="145.1" r="2.4" fill="#ecf54a"/>
<circle cx="367.6" cy="144.6" r="2.4" fill="#ecf54a"/>
<circle cx="361.0" cy="159.2" r="2.4" fill="#d6567f"/>
<circle cx="373.6" cy="158.1" r="2.4" fill="#f29a5c"/>
<circle cx="367.6" cy="173.6" r="2.4" fill="#1b1592"/>
<circle cx="374.1" cy="174.8" r="2.4" fill="#f29a5c"/>
<circle cx="382.9" cy="176.6" r="2.4" fill="#f29a5c"/>
<circle cx="380.3" cy="176.2" r="2.4" fill="#ecf54a"/>
<circle cx="364.1" cy="181.9" r="2.4" fill="#ecf54a"/>
<circle cx="385.2" cy="165.2" r="2.4" fill="#ecf54a"/>
<circle cx="392.6" cy="165.2" r="2.4" fill="#ecf54a"/>
<circle cx="398.4" cy="165.2" r="2.4" fill="#ecf54a"/>
<circle cx="396.5" cy="157.4" r="2.4" fill="#ecf54a"/>
<circle cx="391.7" cy="168.9" r="2.4" fill="#8c26c9"/>
<circle cx="394.0" cy="169.6" r="2.4" fill="#d6567f"/>
<circle cx="392.6" cy="172.2" r="2.4" fill="#ecf54a"/>
<circle cx="399.1" cy="170.6" r="2.4" fill="#d6567f"/>
<circle cx="405.4" cy="171.8" r="2.4" fill="#8c26c9"/>
<circle cx="411.1" cy="173.1" r="2.4" fill="#f29a5c"/>
<circle cx="404.0" cy="176.8" r="2.4" fill="#d6567f"/>
<circle cx="410.2" cy="177.6" r="2.4" fill="#d6567f"/>
<circle cx="385.6" cy="185.0" r="2.4" fill="#ecf54a"/>
<circle cx="388.2" cy="185.9" r="2.4" fill="#d6567f"/>
<circle cx="390.0" cy="187.3" r="2.4" fill="#d6567f"/>
<circle cx="390.8" cy="192.9" r="2.4" fill="#f29a5c"/>
<circle cx="400.5" cy="190.7" r="2.4" fill="#f29a5c"/>
<circle cx="402.8" cy="193.8" r="2.4" fill="#ecf54a"/>
<circle cx="395.6" cy="197.3" r="2.4" fill="#8c26c9"/>
<circle cx="391.2" cy="201.4" r="2.4" fill="#f29a5c"/>
<circle cx="424.8" cy="199.4" r="2.4" fill="#ecf54a"/>
<circle cx="390.8" cy="211.4" r="2.4" fill="#f29a5c"/>
<circle cx="392.2" cy="211.1" r="2.4" fill="#ecf54a"/>
<circle cx="391.3" cy="212.0" r="2.4" fill="#d6567f"/>
<circle cx="389.9" cy="212.8" r="2.4" fill="#d6567f"/>
<circle cx="398.3" cy="211.6" r="2.4" fill="#f29a5c"/>
<circle cx="394.8" cy="218.1" r="2.4" fill="#d6567f"/>
<circle cx="395.3" cy="218.6" r="2.4" fill="#d6567f"/>
<circle cx="373.4" cy="226.0" r="2.4" fill="#f29a5c"/>
<circle cx="545.6" cy="222.4" r="2.4" fill="#ecf54a"/>
<circle cx="585.7" cy="227.3" r="2.4" fill="#ecf54a"/>
<circle cx="598.0" cy="232.1" r="2.4" fill="#f29a5c"/>
<circle cx="596.6" cy="232.9" r="2.4" fill="#ecf54a"/>
<circle cx="607.1" cy="225.4" r="2.4" fill="#f29a5c"/>
<circle cx="607.3" cy="226.8" r="2.4" fill="#ecf54a"/>
<circle cx="611.7" cy="215.4" r="2.4" fill="#f29a5c"/>
<circle cx="611.2" cy="212.7" r="2.4" fill="#ecf54a"/>
<circle cx="651.1" cy="232.9" r="2.4" fill="#f29a5c"/>
<circle cx="649.8" cy="231.5" r="2.4" fill="#ecf54a"/>
<circle cx="487.5" cy="68.5" r="2.4" fill="#8c26c9"/>
<circle cx="492.7" cy="87.1" r="2.4" fill="#d6567f"/>
<circle cx="495.9" cy="88.3" r="2.4" fill="#f29a5c"/>
<circle cx="61.8" cy="128.1" r="2.4" fill="#f29a5c"/>
</g>
<text x="32.6" y="181.3" font-size="11.3">Cooling efficiency (°C)</text>
<circle cx="37.1" cy="197.2" r="3.55" fill="#ecf54a" stroke="#2a2030" stroke-width=".7"/>
<text x="47.6" y="200.9" font-size="10.5">&lt;0.05</text>
<circle cx="37.1" cy="212.1" r="3.55" fill="#f29a5c" stroke="#2a2030" stroke-width=".7"/>
<text x="47.6" y="215.8" font-size="10.5">0.05 - 0.10</text>
<circle cx="37.1" cy="227.1" r="3.55" fill="#d6567f" stroke="#2a2030" stroke-width=".7"/>
<text x="47.6" y="230.8" font-size="10.5">0.10 - 0.15</text>
<circle cx="37.1" cy="242.0" r="3.55" fill="#8c26c9" stroke="#2a2030" stroke-width=".7"/>
<text x="47.6" y="245.7" font-size="10.5">0.15 - 0.20</text>
<circle cx="37.1" cy="257.0" r="3.55" fill="#1b1592" stroke="#2a2030" stroke-width=".7"/>
<text x="47.6" y="260.7" font-size="10.5">&gt;0.20</text>
<text x="24" y="296" font-size="17.7" stroke="#1a1a1a" stroke-width=".35">b</text>
<text x="98.8" y="298.7" font-size="9.7" text-anchor="middle">HIC</text>
<text x="85.2" y="314.8" font-size="9.8" textLength="22.2" lengthAdjust="spacingAndGlyphs">0.136</text>
<text x="108.0" y="314.8" font-size="9.8" textLength="8" lengthAdjust="spacingAndGlyphs">℃</text>
<rect x="63.1" y="365.3" width="14.9" height="95.3" fill="#470a57"/>
<text x="70.5" y="363.4" font-size="5.4" text-anchor="middle">0.103</text>
<text x="70.5" y="469.7" font-size="8.8" text-anchor="middle">A</text>
<rect x="82.9" y="365.3" width="14.9" height="95.3" fill="#8a68b6"/>
<text x="90.3" y="363.4" font-size="5.4" text-anchor="middle">0.103</text>
<text x="90.3" y="469.7" font-size="8.8" text-anchor="middle">B</text>
<rect x="102.6" y="330.2" width="14.9" height="130.4" fill="#b0a8d6"/>
<text x="110.1" y="328.3" font-size="5.4" text-anchor="middle">0.141</text>
<text x="110.1" y="469.7" font-size="8.8" text-anchor="middle">C</text>
<rect x="122.4" y="329.2" width="14.9" height="131.4" fill="#a6dde3"/>
<text x="129.9" y="327.4" font-size="5.4" text-anchor="middle">0.142</text>
<text x="129.9" y="469.7" font-size="8.8" text-anchor="middle">D</text>
<rect x="59.5" y="304.4" width="82.5" height="156.2" fill="none" stroke="#a04644" stroke-width="1.15"/>
<text x="189.6" y="298.7" font-size="9.7" text-anchor="middle">UMIC</text>
<text x="176.0" y="314.8" font-size="9.8" textLength="22.2" lengthAdjust="spacingAndGlyphs">0.129</text>
<text x="198.8" y="314.8" font-size="9.8" textLength="8" lengthAdjust="spacingAndGlyphs">℃</text>
<rect x="153.9" y="346.8" width="14.9" height="113.8" fill="#470a57"/>
<text x="161.3" y="344.9" font-size="5.4" text-anchor="middle">0.123</text>
<text x="161.3" y="469.7" font-size="8.8" text-anchor="middle">A</text>
<rect x="173.7" y="361.6" width="14.9" height="99.0" fill="#8a68b6"/>
<text x="181.1" y="359.7" font-size="5.4" text-anchor="middle">0.107</text>
<text x="181.1" y="469.7" font-size="8.8" text-anchor="middle">B</text>
<rect x="193.4" y="336.7" width="14.9" height="123.9" fill="#b0a8d6"/>
<text x="200.9" y="334.8" font-size="5.4" text-anchor="middle">0.134</text>
<text x="200.9" y="469.7" font-size="8.8" text-anchor="middle">C</text>
<rect x="213.2" y="338.5" width="14.9" height="122.1" fill="#a6dde3"/>
<text x="220.7" y="336.6" font-size="5.4" text-anchor="middle">0.132</text>
<text x="220.7" y="469.7" font-size="8.8" text-anchor="middle">D</text>
<rect x="150.3" y="304.4" width="82.5" height="156.2" fill="none" stroke="#a04644" stroke-width="1.15"/>
<text x="280.5" y="298.7" font-size="9.7" text-anchor="middle">LMIC</text>
<text x="266.9" y="314.8" font-size="9.8" textLength="22.2" lengthAdjust="spacingAndGlyphs">0.109</text>
<text x="289.7" y="314.8" font-size="9.8" textLength="8" lengthAdjust="spacingAndGlyphs">℃</text>
<rect x="244.9" y="375.5" width="14.9" height="85.1" fill="#470a57"/>
<text x="252.3" y="373.6" font-size="5.4" text-anchor="middle">0.092</text>
<text x="252.3" y="469.7" font-size="8.8" text-anchor="middle">A</text>
<rect x="264.7" y="355.2" width="14.9" height="105.4" fill="#8a68b6"/>
<text x="272.1" y="353.3" font-size="5.4" text-anchor="middle">0.114</text>
<text x="272.1" y="469.7" font-size="8.8" text-anchor="middle">B</text>
<rect x="284.4" y="358.9" width="14.9" height="101.8" fill="#b0a8d6"/>
<text x="291.9" y="357.0" font-size="5.4" text-anchor="middle">0.110</text>
<text x="291.9" y="469.7" font-size="8.8" text-anchor="middle">C</text>
<rect x="304.2" y="351.5" width="14.9" height="109.1" fill="#a6dde3"/>
<text x="311.7" y="349.6" font-size="5.4" text-anchor="middle">0.118</text>
<text x="311.7" y="469.7" font-size="8.8" text-anchor="middle">D</text>
<rect x="241.3" y="304.4" width="82.4" height="156.2" fill="none" stroke="#a04644" stroke-width="1.15"/>
<text x="370.5" y="298.7" font-size="9.7" text-anchor="middle">LIC</text>
<text x="358.2" y="314.8" font-size="9.8" textLength="22.2" lengthAdjust="spacingAndGlyphs">0.083</text>
<text x="381.0" y="314.8" font-size="9.8" textLength="8" lengthAdjust="spacingAndGlyphs">℃</text>
<rect x="336.2" y="375.5" width="14.9" height="85.1" fill="#470a57"/>
<text x="343.7" y="373.6" font-size="5.4" text-anchor="middle">0.092</text>
<text x="343.7" y="469.7" font-size="8.8" text-anchor="middle">A</text>
<rect x="356.0" y="378.3" width="14.9" height="82.3" fill="#8a68b6"/>
<text x="363.4" y="376.4" font-size="5.4" text-anchor="middle">0.089</text>
<text x="363.4" y="469.7" font-size="8.8" text-anchor="middle">B</text>
<rect x="375.7" y="388.5" width="14.9" height="72.1" fill="#b0a8d6"/>
<text x="383.2" y="386.6" font-size="5.4" text-anchor="middle">0.078</text>
<text x="383.2" y="469.7" font-size="8.8" text-anchor="middle">C</text>
<rect x="395.5" y="382.9" width="14.9" height="77.7" fill="#a6dde3"/>
<text x="403.0" y="381.0" font-size="5.4" text-anchor="middle">0.084</text>
<text x="403.0" y="469.7" font-size="8.8" text-anchor="middle">D</text>
<rect x="332.6" y="304.4" width="82.4" height="156.2" fill="none" stroke="#a04644" stroke-width="1.15"/>
<text x="55.8" y="315.2" font-size="7" text-anchor="end">0.16</text>
<text x="55.8" y="352.2" font-size="7" text-anchor="end">0.12</text>
<text x="55.8" y="389.2" font-size="7" text-anchor="end">0.08</text>
<text x="55.8" y="426.2" font-size="7" text-anchor="end">0.04</text>
<text x="55.8" y="463.2" font-size="7" text-anchor="end">0.00</text>
<text transform="translate(36.5,384) rotate(-90)" font-size="10.3" text-anchor="middle">CE (°C)</text>
<text x="418.5" y="296" font-size="17.7" stroke="#1a1a1a" stroke-width=".35">c</text>
<rect x="457.5" y="299.90" width="34.9" height="16.11" fill="#c9589c"/>
<rect x="491.9" y="299.90" width="34.0" height="16.11" fill="#9b3fb8"/>
<rect x="525.4" y="299.90" width="34.5" height="16.11" fill="#8a2ec0"/>
<rect x="559.4" y="299.90" width="34.9" height="16.11" fill="#8a2cba"/>
<rect x="593.8" y="299.90" width="34.0" height="16.11" fill="#5a22ad"/>
<rect x="627.3" y="299.90" width="34.0" height="16.11" fill="#5a24aa"/>
<rect x="457.5" y="315.51" width="34.9" height="16.11" fill="#b44aae"/>
<rect x="491.9" y="315.51" width="34.0" height="16.11" fill="#b850a8"/>
<rect x="525.4" y="315.51" width="34.5" height="16.11" fill="#9a3cb8"/>
<rect x="559.4" y="315.51" width="34.9" height="16.11" fill="#6a26b2"/>
<rect x="593.8" y="315.51" width="34.0" height="16.11" fill="#8a2ec0"/>
<rect x="627.3" y="315.51" width="34.0" height="16.11" fill="#3d1c9c"/>
<rect x="457.5" y="331.12" width="34.9" height="16.11" fill="#a843b0"/>
<rect x="491.9" y="331.12" width="34.0" height="16.11" fill="#a040b4"/>
<rect x="525.4" y="331.12" width="34.5" height="16.11" fill="#a040b4"/>
<rect x="559.4" y="331.12" width="34.9" height="16.11" fill="#cc5c98"/>
<rect x="593.8" y="331.12" width="34.0" height="16.11" fill="#8a2ec0"/>
<rect x="627.3" y="331.12" width="34.0" height="16.11" fill="#5c24ac"/>
<rect x="457.5" y="346.73" width="34.9" height="16.11" fill="#e08a7a"/>
<rect x="491.9" y="346.73" width="34.0" height="16.11" fill="#efc455"/>
<rect x="525.4" y="346.73" width="34.5" height="16.11" fill="#e89a70"/>
<rect x="559.4" y="346.73" width="34.9" height="16.11" fill="#c0529e"/>
<rect x="593.8" y="346.73" width="34.0" height="16.11" fill="#8a2ec0"/>
<rect x="627.3" y="346.73" width="34.0" height="16.11" fill="#c2559e"/>
<rect x="457.5" y="362.34" width="34.9" height="16.11" fill="#eaa868"/>
<rect x="491.9" y="362.34" width="34.0" height="16.11" fill="#efd050"/>
<rect x="525.4" y="362.34" width="34.5" height="16.11" fill="#e89870"/>
<rect x="559.4" y="362.34" width="34.9" height="16.11" fill="#e08a7c"/>
<rect x="593.8" y="362.34" width="34.0" height="16.11" fill="#c0509e"/>
<rect x="627.3" y="362.34" width="34.0" height="16.11" fill="#8a2cc0"/>
<rect x="457.5" y="377.95" width="34.9" height="16.11" fill="#eef750"/>
<rect x="491.9" y="377.95" width="34.0" height="16.11" fill="#eef048"/>
<rect x="525.4" y="377.95" width="34.5" height="16.11" fill="#eaa468"/>
<rect x="559.4" y="377.95" width="34.9" height="16.11" fill="#e08a78"/>
<rect x="593.8" y="377.95" width="34.0" height="16.11" fill="#b84ca4"/>
<rect x="627.3" y="377.95" width="34.0" height="16.11" fill="#ffffff"/>
<rect x="457.5" y="393.56" width="34.9" height="16.11" fill="#ecc058"/>
<rect x="491.9" y="393.56" width="34.0" height="16.11" fill="#d0609a"/>
<rect x="525.4" y="393.56" width="34.5" height="16.11" fill="#b84aa8"/>
<rect x="559.4" y="393.56" width="34.9" height="16.11" fill="#b048aa"/>
<rect x="593.8" y="393.56" width="34.0" height="16.11" fill="#7a2ab8"/>
<rect x="627.3" y="393.56" width="34.0" height="16.11" fill="#5a22ac"/>
<rect x="457.5" y="409.17" width="34.9" height="16.11" fill="#eef650"/>
<rect x="491.9" y="409.17" width="34.0" height="16.11" fill="#eef050"/>
<rect x="525.4" y="409.17" width="34.5" height="16.11" fill="#eedc50"/>
<rect x="559.4" y="409.17" width="34.9" height="16.11" fill="#5a22ac"/>
<rect x="593.8" y="409.17" width="34.0" height="16.11" fill="#4a1ea4"/>
<rect x="627.3" y="409.17" width="34.0" height="16.11" fill="#ffffff"/>
<rect x="457.5" y="424.78" width="34.9" height="16.11" fill="#ecc45a"/>
<rect x="491.9" y="424.78" width="34.0" height="16.11" fill="#e08c7a"/>
<rect x="525.4" y="424.78" width="34.5" height="16.11" fill="#6a26b4"/>
<rect x="559.4" y="424.78" width="34.9" height="16.11" fill="#a844ae"/>
<rect x="593.8" y="424.78" width="34.0" height="16.11" fill="#3c1c9c"/>
<rect x="627.3" y="424.78" width="34.0" height="16.11" fill="#5a22ac"/>
<rect x="457.5" y="440.39" width="34.9" height="15.61" fill="#ecc85a"/>
<rect x="491.9" y="440.39" width="34.0" height="15.61" fill="#efd450"/>
<rect x="525.4" y="440.39" width="34.5" height="15.61" fill="#b048aa"/>
<rect x="559.4" y="440.39" width="34.9" height="15.61" fill="#e08878"/>
<rect x="593.8" y="440.39" width="34.0" height="15.61" fill="#ffffff"/>
<rect x="627.3" y="440.39" width="34.0" height="15.61" fill="#c0529e"/>
<text x="474.7" y="309.8" font-size="5.6" text-anchor="middle" fill="#222">56</text>
<text x="508.6" y="309.8" font-size="5.6" text-anchor="middle" fill="#222">32</text>
<text x="542.4" y="309.8" font-size="5.6" text-anchor="middle" fill="#222">27</text>
<text x="576.6" y="309.8" font-size="5.6" text-anchor="middle" fill="#222">13</text>
<text x="610.5" y="309.8" font-size="5.6" text-anchor="middle" fill="#222">1</text>
<text x="644.3" y="309.8" font-size="5.6" text-anchor="middle" fill="#222">2</text>
<text x="474.7" y="325.4" font-size="5.6" text-anchor="middle" fill="#222">70</text>
<text x="508.6" y="325.4" font-size="5.6" text-anchor="middle" fill="#222">38</text>
<text x="542.4" y="325.4" font-size="5.6" text-anchor="middle" fill="#222">39</text>
<text x="576.6" y="325.4" font-size="5.6" text-anchor="middle" fill="#222">15</text>
<text x="610.5" y="325.4" font-size="5.6" text-anchor="middle" fill="#222">9</text>
<text x="644.3" y="325.4" font-size="5.6" text-anchor="middle" fill="#222">9</text>
<text x="474.7" y="341.0" font-size="5.6" text-anchor="middle" fill="#222">154</text>
<text x="508.6" y="341.0" font-size="5.6" text-anchor="middle" fill="#222">65</text>
<text x="542.4" y="341.0" font-size="5.6" text-anchor="middle" fill="#222">55</text>
<text x="576.6" y="341.0" font-size="5.6" text-anchor="middle" fill="#222">42</text>
<text x="610.5" y="341.0" font-size="5.6" text-anchor="middle" fill="#222">15</text>
<text x="644.3" y="341.0" font-size="5.6" text-anchor="middle" fill="#222">15</text>
<text x="474.7" y="356.6" font-size="5.6" text-anchor="middle" fill="#222">89</text>
<text x="508.6" y="356.6" font-size="5.6" text-anchor="middle" fill="#222">51</text>
<text x="542.4" y="356.6" font-size="5.6" text-anchor="middle" fill="#222">32</text>
<text x="576.6" y="356.6" font-size="5.6" text-anchor="middle" fill="#222">17</text>
<text x="610.5" y="356.6" font-size="5.6" text-anchor="middle" fill="#222">8</text>
<text x="644.3" y="356.6" font-size="5.6" text-anchor="middle" fill="#222">12</text>
<text x="474.7" y="372.2" font-size="5.6" text-anchor="middle" fill="#222">17</text>
<text x="508.6" y="372.2" font-size="5.6" text-anchor="middle" fill="#222">15</text>
<text x="542.4" y="372.2" font-size="5.6" text-anchor="middle" fill="#222">17</text>
<text x="576.6" y="372.2" font-size="5.6" text-anchor="middle" fill="#222">6</text>
<text x="610.5" y="372.2" font-size="5.6" text-anchor="middle" fill="#222">5</text>
<text x="644.3" y="372.2" font-size="5.6" text-anchor="middle" fill="#222">5</text>
<text x="474.7" y="387.9" font-size="5.6" text-anchor="middle" fill="#222">10</text>
<text x="508.6" y="387.9" font-size="5.6" text-anchor="middle" fill="#222">6</text>
<text x="542.4" y="387.9" font-size="5.6" text-anchor="middle" fill="#222">10</text>
<text x="576.6" y="387.9" font-size="5.6" text-anchor="middle" fill="#222">9</text>
<text x="610.5" y="387.9" font-size="5.6" text-anchor="middle" fill="#222">6</text>
<text x="644.3" y="387.9" font-size="5.6" text-anchor="middle" fill="#222">0</text>
<text x="474.7" y="403.5" font-size="5.6" text-anchor="middle" fill="#222">14</text>
<text x="508.6" y="403.5" font-size="5.6" text-anchor="middle" fill="#222">15</text>
<text x="542.4" y="403.5" font-size="5.6" text-anchor="middle" fill="#222">10</text>
<text x="576.6" y="403.5" font-size="5.6" text-anchor="middle" fill="#222">9</text>
<text x="610.5" y="403.5" font-size="5.6" text-anchor="middle" fill="#222">1</text>
<text x="644.3" y="403.5" font-size="5.6" text-anchor="middle" fill="#222">1</text>
<text x="474.7" y="419.1" font-size="5.6" text-anchor="middle" fill="#222">9</text>
<text x="508.6" y="419.1" font-size="5.6" text-anchor="middle" fill="#222">2</text>
<text x="542.4" y="419.1" font-size="5.6" text-anchor="middle" fill="#222">7</text>
<text x="576.6" y="419.1" font-size="5.6" text-anchor="middle" fill="#222">5</text>
<text x="610.5" y="419.1" font-size="5.6" text-anchor="middle" fill="#222">1</text>
<text x="644.3" y="419.1" font-size="5.6" text-anchor="middle" fill="#222">0</text>
<text x="474.7" y="434.7" font-size="5.6" text-anchor="middle" fill="#222">22</text>
<text x="508.6" y="434.7" font-size="5.6" text-anchor="middle" fill="#222">16</text>
<text x="542.4" y="434.7" font-size="5.6" text-anchor="middle" fill="#222">3</text>
<text x="576.6" y="434.7" font-size="5.6" text-anchor="middle" fill="#222">7</text>
<text x="610.5" y="434.7" font-size="5.6" text-anchor="middle" fill="#222">1</text>
<text x="644.3" y="434.7" font-size="5.6" text-anchor="middle" fill="#222">2</text>
<text x="474.7" y="450.3" font-size="5.6" text-anchor="middle" fill="#222">5</text>
<text x="508.6" y="450.3" font-size="5.6" text-anchor="middle" fill="#222">1</text>
<text x="542.4" y="450.3" font-size="5.6" text-anchor="middle" fill="#222">2</text>
<text x="576.6" y="450.3" font-size="5.6" text-anchor="middle" fill="#222">6</text>
<text x="610.5" y="450.3" font-size="5.6" text-anchor="middle" fill="#222">0</text>
<text x="644.3" y="450.3" font-size="5.6" text-anchor="middle" fill="#222">2</text>
<text x="456" y="301.5" font-size="5.2" text-anchor="end">60°N</text>
<text x="456" y="317.1" font-size="5.2" text-anchor="end">50°N</text>
<text x="456" y="332.7" font-size="5.2" text-anchor="end">40°N</text>
<text x="456" y="348.3" font-size="5.2" text-anchor="end">30°N</text>
<text x="456" y="363.9" font-size="5.2" text-anchor="end">20°N</text>
<text x="456" y="379.6" font-size="5.2" text-anchor="end">10°N</text>
<text x="456" y="395.2" font-size="5.2" text-anchor="end">0°</text>
<text x="456" y="410.8" font-size="5.2" text-anchor="end">10°S</text>
<text x="456" y="426.4" font-size="5.2" text-anchor="end">20°S</text>
<text x="456" y="442.0" font-size="5.2" text-anchor="end">30°S</text>
<text x="456" y="457.6" font-size="5.2" text-anchor="end">40°S</text>
<text x="474.7" y="464.4" font-size="6.2" text-anchor="middle">50~100</text>
<text x="508.6" y="464.4" font-size="6.2" text-anchor="middle">100~200</text>
<text x="542.4" y="464.4" font-size="6.2" text-anchor="middle">200~400</text>
<text x="576.6" y="464.4" font-size="6.2" text-anchor="middle">400~800</text>
<text x="610.5" y="464.4" font-size="6.2" text-anchor="middle">800~1600</text>
<text x="644.3" y="464.4" font-size="6.2" text-anchor="middle">&gt;1600</text>
<text x="570.4" y="476" font-size="8.5" text-anchor="middle">Size of built-up area (km²)</text>
<text transform="translate(435.8,378) rotate(-90)" font-size="9.2" text-anchor="middle">Latitude</text>
<rect x="663.4" y="375.6" width="12" height="9.8" fill="#fff" stroke="#222" stroke-width=".6"/>
<text x="669.4" y="383.7" font-size="9" text-anchor="middle">56</text>
<text x="663" y="392.4" font-size="5.3">Sample</text><text x="663" y="397.6" font-size="5.3">count</text>
<text x="662.5" y="407" font-size="5.3">CE Mean</text><text x="662.5" y="412.6" font-size="5.3">(℃)</text>
<defs><linearGradient id="cb" x1="0" y1="0" x2="0" y2="1"><stop offset="0" stop-color="#3a1a9a"/><stop offset=".12" stop-color="#45209f"/><stop offset=".27" stop-color="#7a2ab8"/><stop offset=".42" stop-color="#a844ae"/><stop offset=".55" stop-color="#cc5c98"/><stop offset=".68" stop-color="#e89474"/><stop offset=".8" stop-color="#efc058"/><stop offset=".92" stop-color="#eff04e"/><stop offset="1" stop-color="#eef750"/></linearGradient></defs>
<rect x="662.2" y="416.3" width="8.6" height="39.9" fill="url(#cb)"/>
<text x="674.4" y="427.6" font-size="3.8">0.15</text>
<text x="674.4" y="437.6" font-size="3.8">0.10</text>
<text x="674.4" y="447.7" font-size="3.8">0.05</text>
<text x="674.4" y="457.7" font-size="3.8">0.00</text>
</svg></body></html>
